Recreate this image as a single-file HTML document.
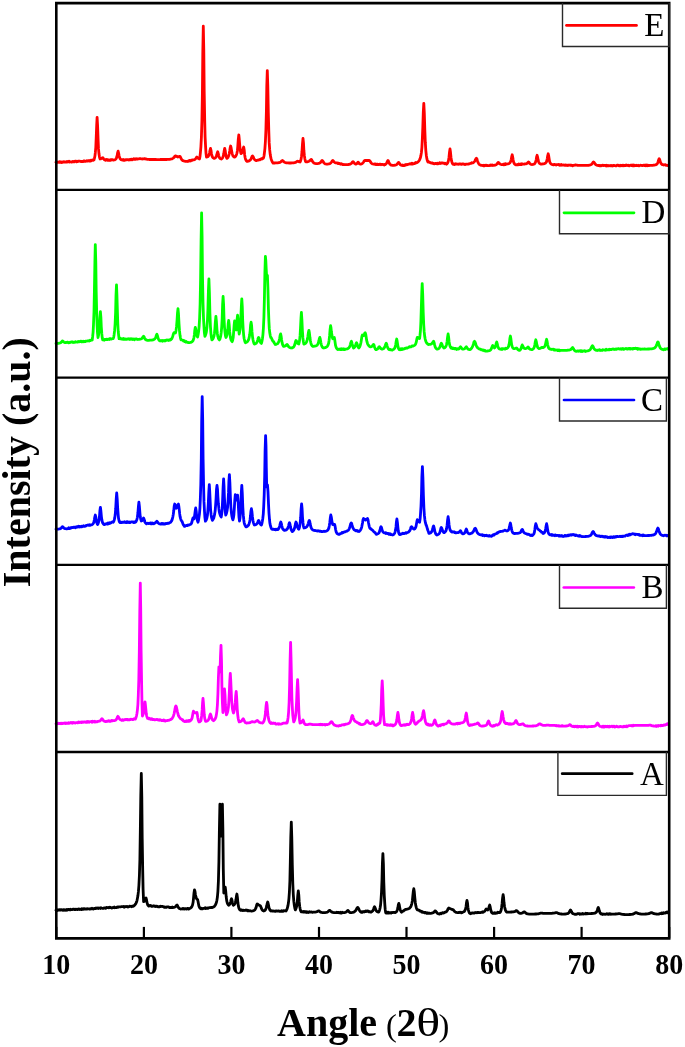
<!DOCTYPE html>
<html><head><meta charset="utf-8"><title>XRD patterns</title>
<style>
html,body{margin:0;padding:0;background:#fff;}
body{width:685px;height:1047px;overflow:hidden;}
svg{display:block;}
.c{fill:none;stroke-width:2.8;stroke-linejoin:round;stroke-linecap:round;}
.fr{fill:none;stroke:#000;stroke-width:2.6;}
.dv{stroke:#000;stroke-width:2.3;}
.tk{stroke:#000;stroke-width:2.2;}
.lb{fill:none;stroke:#2a2a2a;stroke-width:1.4;}
.ll{stroke-width:2.7;stroke-linecap:round;}
.lt{font-family:"Liberation Serif","Times New Roman",serif;font-size:33px;fill:#000;}
.tl{font-family:"Liberation Serif","Times New Roman",serif;font-weight:bold;font-size:28px;text-anchor:middle;fill:#000;}
.ax{font-family:"Liberation Serif","Times New Roman",serif;font-weight:bold;font-size:39px;fill:#000;}
.ay{font-size:40px;}
.rp{font-weight:normal;font-size:32.5px;}
.rt{font-weight:normal;}
</style></head><body>
<svg width="685" height="1047" viewBox="0 0 685 1047">
<rect width="685" height="1047" fill="#fff"/>
<polyline class="c" stroke="#ff0000" points="56.0,162.3 56.5,162.0 57.0,162.3 57.5,162.1 58.0,162.3 58.5,162.3 59.0,161.8 59.5,161.7 60.0,162.4 60.5,161.9 61.0,161.8 61.5,162.5 62.0,162.0 62.5,162.3 63.0,162.0 63.5,162.1 64.0,161.6 64.5,162.0 65.0,162.2 65.5,161.9 66.0,162.1 66.5,162.0 67.0,161.4 67.5,162.0 68.0,161.9 68.5,161.6 69.0,161.3 69.5,162.0 70.0,161.7 70.5,161.9 71.0,162.0 71.5,161.8 72.0,162.0 72.5,161.5 73.0,161.8 73.5,161.5 74.0,161.9 74.5,161.8 75.0,161.1 75.5,161.1 76.0,161.2 76.5,161.8 77.0,161.3 77.5,161.5 78.0,161.2 78.5,161.3 79.0,161.2 79.5,161.1 80.0,161.3 80.5,161.3 81.0,161.6 81.5,161.3 82.0,161.5 82.5,161.5 83.0,161.6 83.5,161.2 84.0,160.8 84.5,161.4 85.0,161.4 85.5,161.4 86.0,161.0 86.5,161.1 87.0,160.7 87.5,161.2 88.0,161.0 88.5,160.7 89.0,160.5 89.5,161.1 90.0,160.8 90.5,161.1 91.0,160.2 91.5,160.7 92.0,160.2 92.5,159.9 93.0,159.9 93.5,160.2 94.0,159.8 94.4,158.4 94.9,156.3 95.3,152.9 95.8,147.3 96.2,137.9 96.7,125.0 97.1,117.3 97.6,126.1 98.1,139.8 98.5,148.9 99.0,154.1 99.5,157.1 100.0,159.0 100.5,158.9 100.9,158.8 101.3,158.6 101.8,158.3 102.2,157.9 102.7,157.7 103.2,158.1 103.6,158.8 104.1,159.4 104.5,159.8 105.0,160.0 105.5,160.3 106.0,159.6 106.5,160.1 107.0,159.6 107.5,160.2 108.0,159.8 108.5,160.3 109.0,160.4 109.5,160.0 110.0,160.4 110.5,159.8 111.0,159.6 111.5,160.1 112.0,159.6 112.5,159.7 113.0,159.9 113.5,160.1 114.0,160.0 114.5,159.9 114.9,159.7 115.4,159.4 115.8,159.0 116.3,158.4 116.7,157.3 117.2,155.4 117.6,152.8 118.1,151.2 118.6,153.0 119.1,155.8 119.6,157.6 120.0,158.6 120.5,159.2 121.0,159.6 121.5,159.8 122.0,160.0 122.5,159.7 123.0,159.5 123.5,160.2 124.0,159.7 124.5,160.3 125.0,160.2 125.5,159.7 126.0,159.7 126.5,159.7 127.0,159.8 127.5,159.7 128.0,159.7 128.5,159.7 129.0,160.0 129.5,159.5 130.0,159.4 130.5,159.7 131.0,159.2 131.5,159.2 132.0,159.8 132.5,159.4 133.0,159.4 133.5,158.8 134.0,159.2 134.5,159.3 135.0,158.8 135.5,159.3 136.0,159.2 136.5,158.7 137.0,159.2 137.5,159.0 138.0,159.0 138.5,158.9 139.0,158.8 139.5,158.7 140.0,158.7 140.5,158.7 141.0,158.8 141.5,158.9 142.0,159.0 142.5,159.0 142.9,158.9 143.4,158.9 143.9,158.8 144.3,158.7 144.8,158.7 145.3,158.8 145.7,158.9 146.2,159.1 146.7,159.2 147.2,159.3 147.6,159.4 148.1,159.4 148.6,159.4 149.1,159.5 149.5,159.5 150.0,159.5 150.5,159.5 151.0,159.5 151.5,159.5 152.0,159.5 152.4,159.5 152.9,159.5 153.4,159.5 153.9,159.5 154.4,159.5 154.9,159.5 155.4,159.5 155.9,159.5 156.3,159.5 156.8,159.6 157.3,159.6 157.8,159.6 158.3,159.6 158.8,159.6 159.3,159.6 159.7,159.6 160.2,159.5 160.7,159.5 161.2,159.5 161.7,159.5 162.2,159.5 162.6,159.5 163.1,159.5 163.6,159.5 164.1,159.5 164.6,159.5 165.0,159.5 165.5,159.5 166.0,159.5 166.5,159.5 167.0,159.5 167.4,159.4 167.9,159.4 168.4,159.4 168.9,159.4 169.4,159.3 169.8,159.3 170.3,159.2 170.8,159.1 171.3,159.0 171.8,158.9 172.2,158.7 172.7,158.4 173.2,158.1 173.7,157.7 174.2,157.2 174.6,156.6 175.1,156.1 175.6,155.9 176.0,156.0 176.4,156.2 176.9,156.5 177.3,156.8 177.7,157.0 178.1,156.9 178.5,156.7 179.0,156.6 179.4,156.4 179.8,156.3 180.3,156.8 180.8,157.9 181.3,159.0 181.8,159.7 182.3,160.2 182.8,160.6 183.3,160.8 183.8,161.0 184.3,161.1 184.8,161.2 185.3,161.3 185.8,161.3 186.3,161.4 186.8,161.4 187.3,161.5 187.8,161.1 188.2,161.3 188.7,161.2 189.2,160.4 189.7,160.4 190.1,160.8 190.6,161.0 191.1,160.2 191.6,160.3 192.0,160.3 192.5,159.9 193.0,160.0 193.5,159.9 194.0,159.8 194.5,159.6 194.9,159.4 195.4,159.0 195.9,158.3 196.4,157.5 196.9,157.0 197.3,157.3 197.8,157.8 198.2,158.3 198.6,158.6 199.1,158.9 199.5,159.0 200.0,156.4 200.4,152.6 200.9,146.8 201.4,137.4 201.9,121.3 202.4,93.6 202.8,52.3 203.3,26.2 203.8,51.1 204.2,91.7 204.7,120.1 205.1,136.9 205.6,146.9 206.0,153.1 206.5,157.2 207.0,157.0 207.5,156.8 208.0,156.5 208.5,155.9 209.0,154.9 209.5,153.1 210.0,150.3 210.5,148.4 211.0,150.3 211.4,153.3 211.9,155.5 212.3,156.7 212.8,157.4 213.3,157.9 213.7,158.2 214.2,158.4 214.7,158.2 215.2,157.9 215.7,157.5 216.2,156.7 216.7,155.3 217.2,153.1 217.7,151.7 218.2,153.3 218.7,155.6 219.2,157.2 219.7,158.0 220.2,158.5 220.7,158.8 221.2,159.0 221.7,158.7 222.2,158.3 222.7,157.6 223.2,156.3 223.7,154.1 224.2,150.7 224.7,148.4 225.2,150.5 225.6,153.9 226.1,156.2 226.5,157.6 227.0,158.4 227.4,158.0 227.9,157.5 228.3,156.7 228.8,155.5 229.2,153.7 229.7,151.0 230.2,147.7 230.6,146.0 231.1,147.7 231.6,150.9 232.1,153.3 232.6,154.9 233.0,155.9 233.5,156.5 234.0,156.9 234.5,157.2 235.0,156.9 235.5,156.5 235.9,155.8 236.4,154.9 236.9,153.3 237.4,150.7 237.8,146.1 238.3,139.2 238.8,134.8 239.2,138.5 239.7,144.8 240.1,149.3 240.6,152.0 241.0,153.7 241.4,153.4 241.9,152.8 242.3,151.9 242.8,150.4 243.2,148.3 243.7,147.0 244.2,149.9 244.6,154.4 245.1,157.5 245.6,159.3 246.1,160.3 246.5,161.0 247.0,161.4 247.5,161.3 248.0,161.2 248.5,161.1 249.0,160.9 249.5,160.6 250.0,160.2 250.5,159.7 251.0,158.9 251.5,157.7 252.0,156.5 252.5,155.9 253.0,156.4 253.4,157.5 253.9,158.5 254.4,159.3 254.9,159.9 255.4,160.2 255.8,160.5 256.3,160.7 256.8,160.4 257.3,160.2 257.8,160.1 258.3,160.2 258.8,159.8 259.3,159.7 259.8,159.9 260.3,159.5 260.8,158.9 261.2,159.1 261.7,159.1 262.1,158.5 262.6,158.2 263.0,158.5 263.5,158.0 264.0,156.0 264.4,153.0 264.9,148.6 265.4,141.5 265.9,130.0 266.4,111.1 266.8,85.5 267.3,70.6 267.8,86.1 268.3,112.3 268.8,131.4 269.2,142.9 269.7,149.9 270.2,154.3 270.7,157.2 271.2,159.2 271.7,160.6 272.1,161.6 272.6,162.4 273.1,163.0 273.6,163.0 274.1,163.0 274.6,163.0 275.1,163.0 275.5,162.9 276.0,162.9 276.5,162.9 277.0,162.9 277.5,162.8 278.0,162.8 278.5,162.7 279.0,162.7 279.5,162.5 280.0,162.4 280.4,162.1 280.9,161.8 281.4,161.3 281.9,160.7 282.4,160.5 282.9,160.7 283.3,161.2 283.8,161.7 284.3,162.1 284.8,162.4 285.2,162.5 285.7,162.7 286.2,162.8 286.7,162.8 287.1,162.9 287.6,162.9 288.1,162.9 288.6,163.0 289.0,163.0 289.5,163.0 290.0,163.0 290.5,163.0 290.9,163.0 291.4,163.0 291.9,162.9 292.4,162.9 292.8,162.9 293.3,162.9 293.8,162.8 294.3,162.7 294.7,162.7 295.2,162.5 295.7,162.3 296.2,162.1 296.6,161.7 297.1,161.4 297.6,161.2 298.1,161.3 298.6,161.5 299.0,161.7 299.5,161.9 300.0,162.0 300.5,161.0 301.0,159.4 301.5,156.5 302.0,151.5 302.5,143.6 303.0,138.3 303.5,143.1 303.9,150.7 304.4,155.9 304.9,159.0 305.3,160.8 305.8,161.9 306.3,161.9 306.8,161.8 307.3,161.8 307.8,161.7 308.3,161.5 308.7,161.4 309.2,161.1 309.7,160.7 310.2,160.2 310.7,159.7 311.2,159.4 311.7,159.8 312.1,160.7 312.6,161.6 313.1,162.2 313.5,162.7 314.0,163.0 314.4,163.2 314.9,163.4 315.4,163.5 315.8,163.6 316.3,163.7 316.8,163.7 317.3,163.6 317.8,163.6 318.3,163.5 318.8,163.4 319.2,163.2 319.7,163.0 320.2,162.7 320.7,162.2 321.2,161.5 321.7,160.8 322.2,160.5 322.7,160.9 323.1,161.6 323.6,162.4 324.0,163.0 324.5,163.4 325.0,163.7 325.4,163.9 325.9,164.0 326.3,164.1 326.8,164.2 327.3,164.2 327.8,164.1 328.3,164.0 328.8,163.9 329.3,163.8 329.8,163.6 330.2,163.4 330.7,163.0 331.2,162.4 331.7,161.7 332.2,160.9 332.7,160.5 333.2,160.8 333.7,161.4 334.2,162.0 334.7,162.4 335.2,162.7 335.7,162.9 336.2,163.0 336.7,162.9 337.2,162.9 337.6,163.2 338.1,163.6 338.6,163.1 339.1,163.4 339.6,163.6 340.1,164.1 340.5,163.8 341.0,164.3 341.5,163.8 342.0,164.1 342.5,164.4 343.0,164.7 343.4,164.5 343.9,164.4 344.4,164.7 344.9,164.7 345.4,164.7 345.8,164.7 346.3,164.6 346.8,164.6 347.3,164.6 347.7,164.6 348.2,164.5 348.7,164.5 349.2,164.4 349.7,164.3 350.1,164.1 350.6,163.9 351.1,163.6 351.6,163.2 352.0,162.6 352.5,162.0 353.0,161.7 353.5,162.0 353.9,162.6 354.4,163.2 354.9,163.7 355.3,164.0 355.8,164.2 356.3,164.0 356.7,163.8 357.2,163.3 357.6,162.6 358.1,162.2 358.6,162.6 359.1,163.3 359.5,163.8 360.0,164.0 360.5,164.2 361.0,164.1 361.4,163.9 361.9,163.7 362.4,163.5 362.8,163.0 363.3,162.4 363.8,161.7 364.2,160.9 364.7,160.5 365.2,160.5 365.6,160.5 366.1,160.5 366.5,160.5 367.0,160.5 367.5,160.5 368.0,160.5 368.4,160.5 368.9,160.5 369.4,160.5 369.9,160.9 370.3,161.6 370.8,162.4 371.2,163.0 371.7,163.4 372.2,163.7 372.6,163.9 373.1,164.0 373.5,164.1 374.0,164.2 374.5,163.9 375.0,164.3 375.5,164.0 376.0,164.6 376.5,164.6 377.0,164.1 377.5,164.2 378.0,164.7 378.5,164.5 379.0,164.7 379.5,164.3 380.0,164.1 380.5,164.3 381.0,164.8 381.5,164.3 382.0,164.4 382.5,164.5 383.0,164.5 383.5,164.6 384.0,165.0 384.5,164.4 385.0,164.7 385.5,164.4 386.0,164.0 386.5,163.3 387.0,162.4 387.5,161.1 388.0,160.5 388.5,161.1 388.9,162.3 389.4,163.4 389.9,164.1 390.4,164.5 390.8,164.9 391.3,165.1 391.8,165.2 392.2,165.3 392.7,165.4 393.2,165.4 393.7,165.3 394.2,165.3 394.7,165.2 395.2,165.2 395.6,165.0 396.1,164.9 396.6,164.6 397.1,164.2 397.6,163.5 398.1,162.8 398.6,162.4 399.1,162.8 399.6,163.6 400.1,164.3 400.5,164.8 401.0,165.1 401.5,165.3 402.0,165.4 402.5,164.9 403.0,165.6 403.5,165.5 404.0,165.5 404.5,164.9 405.0,165.3 405.5,165.2 406.0,164.5 406.5,164.8 407.0,164.8 407.5,164.6 408.0,164.4 408.5,164.1 409.0,164.1 409.5,163.9 410.0,163.6 410.5,164.0 411.0,163.7 411.5,164.1 412.0,163.3 412.5,164.0 413.0,163.7 413.5,163.8 414.0,163.7 414.5,163.6 415.0,163.2 415.5,162.6 416.0,163.0 416.5,162.8 417.0,162.6 417.5,162.3 417.9,161.9 418.4,161.5 418.9,160.9 419.4,160.2 419.9,159.1 420.4,157.7 420.9,155.6 421.4,152.5 421.9,147.6 422.3,139.8 422.8,127.6 423.3,112.0 423.8,103.3 424.3,112.7 424.8,129.5 425.3,142.2 425.8,150.3 426.3,155.2 426.8,158.4 427.3,160.5 427.8,161.9 428.3,162.2 428.8,161.9 429.3,162.1 429.8,162.6 430.3,162.6 430.8,162.6 431.3,163.2 431.8,163.0 432.3,162.9 432.8,163.0 433.3,163.6 433.8,163.4 434.3,163.8 434.8,163.7 435.3,163.5 435.8,163.3 436.2,163.6 436.7,163.8 437.2,163.2 437.7,163.7 438.2,163.8 438.7,163.6 439.1,163.6 439.6,162.8 440.1,163.4 440.6,163.5 441.1,162.8 441.6,162.9 442.0,162.9 442.5,163.1 443.0,163.0 443.5,163.1 444.0,163.3 444.5,163.8 445.0,163.2 445.5,163.5 446.0,163.7 446.5,164.2 447.0,163.8 447.5,163.2 448.0,162.1 448.5,160.4 449.0,157.2 449.5,152.2 450.0,148.9 450.5,152.3 451.0,157.4 451.5,160.7 452.0,162.5 452.5,163.6 453.0,164.2 453.5,163.9 454.0,163.8 454.5,164.6 455.0,164.5 455.5,163.8 456.0,164.2 456.5,164.0 457.0,164.0 457.5,164.1 458.0,164.3 458.5,164.3 459.0,164.1 459.5,163.9 460.0,164.0 460.5,163.9 461.0,164.2 461.5,164.4 462.0,164.1 462.5,163.8 463.0,163.9 463.5,164.1 464.0,164.3 464.5,164.5 465.0,164.1 465.5,164.5 466.0,164.3 466.5,164.1 467.0,164.1 467.5,164.2 468.0,164.1 468.4,164.1 468.9,163.8 469.4,163.9 469.9,163.6 470.3,163.3 470.8,163.4 471.3,163.4 471.7,162.7 472.2,163.0 472.7,162.9 473.1,162.7 473.6,162.4 474.1,162.0 474.5,161.5 475.0,160.7 475.5,159.7 475.9,158.7 476.4,158.2 476.9,158.9 477.3,160.4 477.8,161.8 478.3,162.9 478.7,163.7 479.2,164.3 479.6,164.6 480.1,164.9 480.6,165.1 481.0,165.3 481.5,165.4 482.0,165.3 482.5,165.3 483.0,165.7 483.4,165.8 483.9,165.3 484.4,165.8 484.9,165.7 485.4,165.2 485.9,165.4 486.4,165.1 486.9,165.7 487.4,165.5 487.8,165.7 488.3,165.7 488.8,165.6 489.3,165.6 489.8,165.5 490.3,165.0 490.8,165.5 491.2,165.0 491.7,165.1 492.2,165.6 492.7,165.0 493.2,165.4 493.7,165.4 494.1,165.3 494.6,165.2 495.1,165.2 495.5,165.0 496.0,164.8 496.4,164.5 496.9,164.1 497.4,163.5 497.8,162.8 498.3,162.4 498.8,162.7 499.2,163.3 499.7,163.8 500.2,164.1 500.6,164.3 501.1,164.5 501.6,164.6 502.0,164.6 502.5,164.7 503.0,164.3 503.4,164.2 503.9,164.8 504.4,164.1 504.9,163.9 505.4,164.6 505.8,163.8 506.3,164.1 506.8,164.1 507.3,164.0 507.8,163.9 508.3,163.8 508.8,163.6 509.2,163.4 509.7,163.0 510.2,162.4 510.7,161.4 511.2,159.5 511.7,156.7 512.2,154.8 512.6,156.6 513.1,159.6 513.5,161.7 514.0,163.0 514.4,163.8 514.9,164.3 515.3,164.6 515.8,164.9 516.3,164.7 516.7,164.8 517.2,164.9 517.7,164.5 518.2,164.7 518.7,164.0 519.1,164.6 519.6,164.3 520.1,164.5 520.6,163.9 521.1,164.4 521.6,164.6 522.0,163.8 522.5,164.0 523.0,164.1 523.5,164.1 523.9,164.1 524.4,164.0 524.9,164.0 525.3,163.9 525.8,163.9 526.3,163.7 526.7,163.6 527.2,163.3 527.7,162.8 528.1,162.3 528.6,162.0 529.1,162.4 529.6,163.2 530.1,163.7 530.5,164.1 531.0,164.4 531.5,164.5 532.0,164.6 532.5,164.5 532.9,164.4 533.4,164.3 533.9,164.1 534.3,163.9 534.8,163.4 535.2,162.8 535.7,161.7 536.2,159.8 536.6,157.0 537.1,155.3 537.6,157.1 538.1,159.9 538.6,161.7 539.0,162.7 539.5,163.3 540.0,163.7 540.5,163.9 541.0,164.1 541.5,164.1 542.0,164.0 542.4,164.0 542.9,163.9 543.4,163.9 543.9,163.8 544.4,163.6 544.8,163.4 545.3,163.2 545.8,162.7 546.3,162.1 546.8,160.9 547.2,158.8 547.7,155.8 548.2,153.8 548.7,155.9 549.2,159.2 549.6,161.5 550.1,162.7 550.6,163.5 551.1,163.9 551.5,164.2 552.0,164.5 552.5,164.6 553.0,164.7 553.5,164.9 554.0,164.4 554.5,164.4 555.0,164.5 555.5,164.8 556.0,165.0 556.5,164.7 557.0,164.7 557.5,164.7 558.0,164.7 558.5,164.8 559.0,164.5 559.5,164.9 560.0,165.3 560.5,164.8 561.0,165.2 561.5,164.6 562.0,165.1 562.5,165.2 563.0,165.2 563.5,165.0 564.0,165.0 564.5,165.2 565.0,165.4 565.5,164.8 566.0,164.8 566.5,165.4 567.0,165.5 567.5,165.2 568.0,165.2 568.5,165.4 569.0,165.0 569.5,165.1 570.0,165.0 570.5,165.4 571.0,165.2 571.5,165.1 572.0,165.5 572.5,165.8 573.0,165.4 573.4,165.4 573.9,165.3 574.3,165.2 574.7,165.1 575.2,165.0 575.6,165.0 576.1,165.0 576.6,165.1 577.1,165.2 577.5,165.3 578.0,165.3 578.5,165.3 579.0,165.3 579.5,165.4 580.0,165.4 580.4,165.4 580.9,165.4 581.4,165.4 581.9,165.4 582.4,165.4 582.9,165.4 583.3,165.4 583.8,165.4 584.3,165.4 584.8,165.4 585.3,165.4 585.8,165.4 586.2,165.4 586.7,165.4 587.2,165.4 587.7,165.4 588.2,165.3 588.7,165.3 589.2,165.2 589.7,165.1 590.2,165.0 590.6,164.9 591.1,164.6 591.6,164.3 592.1,163.8 592.6,163.1 593.1,162.3 593.6,162.0 594.1,162.4 594.5,163.1 595.0,163.8 595.5,164.4 596.0,164.8 596.4,165.0 596.9,165.2 597.4,165.4 597.9,165.5 598.3,165.5 598.8,165.6 599.3,165.4 599.8,165.8 600.3,165.5 600.8,165.9 601.3,165.7 601.8,165.4 602.3,165.3 602.8,165.2 603.3,165.6 603.8,165.5 604.3,165.3 604.8,165.5 605.3,165.4 605.8,165.8 606.3,165.3 606.8,166.0 607.3,165.5 607.7,165.7 608.2,165.5 608.7,165.9 609.2,165.8 609.7,165.6 610.2,165.5 610.7,165.8 611.2,165.9 611.7,165.5 612.2,165.8 612.7,166.0 613.2,165.5 613.7,165.3 614.2,165.3 614.7,165.7 615.2,165.7 615.7,165.9 616.2,165.9 616.7,165.3 617.2,165.2 617.7,165.3 618.2,165.2 618.7,165.7 619.2,165.8 619.7,165.9 620.2,165.3 620.7,165.8 621.2,165.3 621.7,165.4 622.2,165.7 622.7,165.1 623.2,165.1 623.7,165.8 624.2,165.3 624.6,165.4 625.1,165.6 625.6,165.7 626.1,165.0 626.6,165.3 627.1,165.4 627.6,165.5 628.1,165.2 628.6,165.6 629.1,165.9 629.6,165.4 630.1,165.5 630.6,165.1 631.1,165.3 631.6,165.6 632.1,165.1 632.6,165.8 633.1,165.8 633.6,165.1 634.1,165.9 634.6,165.3 635.1,165.7 635.6,165.7 636.1,165.3 636.6,165.6 637.1,165.6 637.6,165.7 638.1,165.2 638.6,165.7 639.1,165.9 639.6,165.6 640.1,165.5 640.6,165.1 641.1,165.4 641.5,165.3 642.0,165.6 642.5,165.6 643.0,165.5 643.5,165.1 644.0,165.6 644.5,165.5 645.0,165.1 645.5,165.8 646.0,165.6 646.5,165.1 647.0,165.8 647.5,165.1 648.0,165.3 648.5,165.6 649.0,165.5 649.5,165.5 650.0,165.4 650.5,165.4 651.0,165.4 651.5,165.4 651.9,165.3 652.4,165.3 652.9,165.3 653.4,165.2 653.9,165.2 654.4,165.1 654.8,165.0 655.3,164.9 655.8,164.8 656.3,164.5 656.8,164.2 657.3,163.6 657.7,162.8 658.2,161.4 658.7,159.7 659.2,158.7 659.7,159.6 660.2,161.3 660.6,162.6 661.1,163.5 661.6,164.0 662.0,164.4 662.5,164.6 663.0,164.8 663.5,165.0 664.0,164.9 664.5,164.8 665.0,164.7 665.5,164.7 666.0,165.3 666.5,165.4 667.0,165.3 667.5,165.5 668.0,165.2 668.5,165.4"/>
<polyline class="c" stroke="#00ff00" points="56.0,343.4 56.5,343.4 57.0,343.4 57.5,343.3 58.0,343.3 58.5,343.3 59.0,343.2 59.5,343.1 60.0,343.0 60.5,342.8 61.0,342.5 61.5,342.0 62.0,341.3 62.5,340.9 63.0,341.2 63.4,341.7 63.9,342.1 64.4,342.4 64.8,342.6 65.3,342.7 65.8,342.4 66.3,342.3 66.8,342.5 67.3,342.2 67.8,342.1 68.3,342.4 68.8,342.8 69.3,342.7 69.8,342.6 70.3,342.1 70.8,342.3 71.3,342.1 71.8,341.9 72.3,341.8 72.8,341.9 73.3,342.5 73.8,342.4 74.3,342.3 74.8,342.3 75.3,341.7 75.8,341.8 76.3,342.0 76.8,342.1 77.2,342.2 77.7,342.1 78.2,341.4 78.7,341.8 79.2,341.8 79.7,341.7 80.2,341.3 80.7,341.6 81.2,341.2 81.7,341.9 82.2,341.8 82.7,341.5 83.2,341.2 83.7,341.7 84.2,341.4 84.7,341.6 85.2,341.6 85.7,341.2 86.2,341.1 86.7,341.2 87.2,341.0 87.7,340.8 88.2,340.9 88.7,341.0 89.2,341.1 89.7,340.3 90.2,340.2 90.7,340.5 91.2,340.1 91.7,340.2 92.2,340.0 92.6,336.9 93.1,332.1 93.5,324.5 94.0,311.8 94.4,290.9 94.9,261.9 95.3,244.6 95.8,262.4 96.2,291.9 96.7,312.8 97.1,325.3 97.5,332.8 98.0,337.5 98.5,335.5 99.0,332.1 99.4,326.2 99.9,317.4 100.4,311.7 100.9,317.6 101.3,327.1 101.8,333.7 102.2,337.6 102.7,339.9 103.2,339.8 103.7,339.6 104.2,340.2 104.7,339.4 105.2,339.5 105.7,339.3 106.2,339.6 106.7,339.2 107.2,339.3 107.7,339.6 108.2,339.1 108.7,339.3 109.2,339.5 109.7,338.7 110.2,338.6 110.7,338.7 111.2,339.2 111.7,339.0 112.2,338.6 112.7,338.6 113.2,338.7 113.7,337.1 114.1,334.7 114.6,330.7 115.1,324.0 115.6,312.5 116.0,295.5 116.5,284.8 116.9,294.6 117.4,311.3 117.8,323.7 118.2,331.2 118.7,335.8 119.1,338.7 119.6,338.4 120.1,338.7 120.6,338.3 121.1,339.0 121.6,339.1 122.1,339.2 122.5,339.0 123.0,339.3 123.5,338.4 124.0,338.7 124.5,339.3 125.0,339.2 125.5,338.9 126.0,339.4 126.5,339.1 127.0,339.3 127.5,338.8 128.0,338.8 128.4,339.0 128.9,338.7 129.4,339.0 129.9,339.5 130.4,339.0 130.9,338.7 131.4,338.8 131.9,338.9 132.4,339.5 132.9,339.1 133.4,339.0 133.9,338.9 134.4,339.7 134.8,339.2 135.3,339.0 135.8,338.9 136.3,338.9 136.8,339.1 137.3,339.5 137.8,339.4 138.3,339.4 138.8,339.3 139.2,339.3 139.7,339.2 140.2,339.2 140.7,339.0 141.2,338.9 141.7,338.6 142.2,338.2 142.6,337.5 143.1,336.7 143.6,336.2 144.1,336.9 144.6,338.1 145.1,339.0 145.6,339.6 146.1,339.9 146.6,340.1 147.1,340.3 147.6,340.3 148.1,340.3 148.6,340.3 149.1,340.3 149.6,340.2 150.0,340.2 150.5,340.2 151.0,340.1 151.5,340.1 152.0,340.0 152.5,340.0 153.0,339.9 153.5,339.7 154.0,339.5 154.4,339.2 154.9,338.7 155.4,338.0 155.9,336.7 156.4,335.2 156.9,334.3 157.3,335.2 157.8,337.0 158.2,338.5 158.7,339.6 159.1,340.3 159.6,340.7 160.0,341.0 160.5,340.6 161.0,340.5 161.5,340.8 162.0,340.6 162.5,341.2 163.0,340.4 163.5,340.7 164.0,340.9 164.5,340.5 165.0,341.0 165.5,340.5 166.0,340.2 166.5,340.3 167.0,339.9 167.5,340.2 168.0,340.0 168.5,340.5 169.0,340.4 169.5,340.1 170.0,339.6 170.5,340.0 171.0,339.6 171.5,339.1 172.0,338.2 172.5,337.0 173.0,335.4 173.5,333.6 174.0,332.7 174.5,332.8 175.0,332.9 175.5,333.0 176.0,330.7 176.5,326.9 177.0,320.9 177.5,313.0 178.0,308.6 178.5,314.0 179.0,323.5 179.5,330.7 180.0,335.3 180.5,338.1 181.0,339.9 181.5,339.8 182.0,340.0 182.4,340.1 182.9,340.3 183.4,341.1 183.9,340.6 184.4,340.6 184.9,341.6 185.3,341.4 185.8,342.0 186.3,341.6 186.8,342.2 187.3,342.2 187.8,342.5 188.2,342.6 188.7,342.5 189.2,342.7 189.7,342.6 190.1,342.5 190.6,342.4 191.1,342.3 191.5,342.1 192.0,341.8 192.5,341.3 193.0,340.7 193.4,339.6 193.9,337.8 194.4,334.7 194.8,330.2 195.3,327.3 195.8,329.3 196.2,332.6 196.7,334.9 197.1,336.2 197.6,337.0 198.1,334.8 198.6,331.6 199.1,326.6 199.6,318.4 200.1,304.2 200.6,278.8 201.1,239.2 201.6,212.8 202.1,237.3 202.5,276.3 203.0,302.8 203.5,318.1 204.0,327.2 204.4,332.8 204.9,336.4 205.4,335.4 205.9,333.9 206.4,331.6 206.9,327.8 207.4,321.2 207.9,309.5 208.4,291.2 208.9,279.0 209.4,292.5 209.9,312.8 210.4,325.8 210.9,333.1 211.4,337.3 211.9,339.9 212.4,339.5 212.9,338.9 213.4,337.9 213.9,336.4 214.4,333.7 214.9,328.8 215.4,321.3 215.9,316.3 216.4,321.4 216.9,329.1 217.4,334.0 217.9,336.7 218.4,338.3 218.9,339.3 219.4,339.9 219.9,339.0 220.3,337.7 220.8,335.7 221.2,332.5 221.7,327.1 222.2,318.0 222.6,304.7 223.1,296.5 223.6,304.8 224.0,318.0 224.5,327.1 225.0,332.4 225.4,335.6 225.9,337.5 226.4,336.7 226.8,335.4 227.3,333.1 227.8,329.3 228.2,323.8 228.7,320.3 229.2,324.9 229.7,331.9 230.2,336.3 230.7,338.8 231.2,340.3 231.7,341.1 232.2,341.7 232.7,340.1 233.2,337.4 233.6,332.7 234.1,325.5 234.6,321.0 235.0,322.7 235.4,325.9 235.8,328.4 236.2,330.0 236.7,325.6 237.1,319.2 237.6,315.2 238.0,318.8 238.4,325.4 238.8,330.6 239.2,334.0 239.6,332.1 240.1,329.1 240.5,324.2 240.9,316.1 241.4,305.2 241.8,298.8 242.3,307.1 242.7,320.5 243.2,329.8 243.7,335.3 244.1,338.5 244.6,340.5 245.0,341.8 245.5,342.7 246.0,342.5 246.4,342.3 246.9,342.0 247.4,341.6 247.8,341.1 248.3,340.3 248.8,339.2 249.2,337.4 249.7,334.6 250.2,330.3 250.6,325.0 251.1,322.2 251.6,325.5 252.0,331.7 252.5,336.6 253.0,339.8 253.5,341.9 253.9,343.2 254.4,344.1 254.9,344.0 255.3,343.8 255.8,343.5 256.3,343.1 256.7,342.5 257.2,341.6 257.7,340.1 258.1,338.4 258.6,337.4 259.1,338.3 259.5,340.1 260.0,341.5 260.5,342.4 260.9,343.0 261.4,343.4 261.9,341.6 262.4,338.9 262.9,334.8 263.4,328.2 263.9,317.2 264.4,298.7 264.9,272.3 265.4,256.3 265.8,260.5 266.2,268.8 266.6,276.0 267.0,275.6 267.4,275.4 267.9,288.3 268.4,308.2 268.9,321.3 269.3,328.7 269.8,333.1 270.3,335.8 270.8,337.5 271.3,337.8 271.7,338.6 272.2,339.9 272.6,340.7 273.1,341.4 273.6,341.6 274.0,342.5 274.5,343.4 274.9,343.9 275.4,344.5 275.9,344.4 276.3,344.2 276.8,344.0 277.3,343.8 277.8,343.4 278.2,342.8 278.7,341.9 279.2,340.4 279.7,338.2 280.1,335.4 280.6,333.9 281.1,336.0 281.6,339.8 282.1,342.7 282.6,344.6 283.1,345.7 283.6,346.4 284.1,346.3 284.6,346.2 285.1,346.0 285.6,345.8 286.1,345.3 286.6,344.7 287.1,344.4 287.6,344.9 288.0,345.9 288.5,346.6 289.0,347.1 289.5,347.4 289.9,347.6 290.4,347.8 290.9,347.9 291.3,347.9 291.8,348.0 292.3,347.9 292.7,347.6 293.2,347.3 293.7,346.9 294.1,346.2 294.6,345.1 295.1,343.5 295.5,341.5 296.0,340.4 296.5,341.0 296.9,342.0 297.4,342.9 297.9,343.4 298.3,343.8 298.8,344.0 299.2,342.3 299.7,339.6 300.1,335.2 300.5,328.0 301.0,318.1 301.4,312.4 301.9,319.8 302.4,330.8 302.9,337.9 303.4,341.8 303.9,344.1 304.4,343.9 304.9,343.7 305.4,343.4 305.9,342.9 306.4,342.2 306.9,341.0 307.4,339.2 307.9,336.3 308.4,332.5 308.9,330.3 309.4,332.8 309.9,337.3 310.4,340.8 310.9,343.1 311.3,344.5 311.8,345.4 312.3,346.0 312.8,346.4 313.3,346.4 313.8,346.3 314.3,346.2 314.8,346.2 315.3,346.0 315.8,345.9 316.3,345.7 316.8,345.4 317.3,344.9 317.8,344.2 318.3,343.0 318.8,341.2 319.3,338.8 319.8,337.4 320.3,339.2 320.8,342.3 321.3,344.6 321.8,346.1 322.3,347.0 322.8,347.6 323.3,348.0 323.8,347.9 324.3,347.8 324.8,347.7 325.2,347.6 325.7,347.4 326.2,347.2 326.7,346.8 327.2,346.4 327.7,345.7 328.2,344.6 328.7,343.0 329.1,340.2 329.6,335.7 330.1,329.4 330.6,325.7 331.0,327.8 331.4,331.8 331.9,335.1 332.3,337.3 332.7,338.7 333.1,338.5 333.5,338.1 333.9,337.6 334.3,337.4 334.7,339.5 335.2,343.1 335.6,345.7 336.1,347.3 336.5,348.2 337.0,348.8 337.4,349.2 337.9,349.5 338.4,349.2 338.8,349.3 339.3,349.4 339.8,349.0 340.3,349.6 340.7,349.6 341.2,348.8 341.7,349.6 342.2,349.6 342.6,349.4 343.1,348.8 343.6,349.6 344.1,348.9 344.5,349.6 345.0,349.4 345.5,349.2 346.0,349.1 346.5,349.0 347.0,348.9 347.5,348.8 348.0,348.5 348.4,348.2 348.9,347.8 349.4,347.1 349.9,346.0 350.4,344.3 350.9,342.3 351.4,341.3 351.8,342.2 352.2,344.0 352.7,345.8 353.1,347.1 353.5,348.0 354.0,347.7 354.5,347.2 355.0,346.4 355.5,345.2 356.0,343.6 356.5,342.7 357.0,343.6 357.5,345.3 357.9,346.6 358.4,347.5 358.9,348.0 359.4,347.3 359.9,346.3 360.4,344.8 360.9,342.7 361.4,339.7 361.9,336.5 362.4,335.0 362.9,335.1 363.3,335.3 363.8,335.5 364.3,334.4 364.7,333.2 365.2,332.7 365.7,334.1 366.2,337.2 366.6,340.1 367.1,342.3 367.6,343.8 368.1,344.8 368.6,345.5 369.1,346.0 369.5,346.4 370.0,346.7 370.5,346.9 370.9,346.8 371.4,346.6 371.8,346.4 372.3,346.0 372.7,345.4 373.2,344.7 373.6,344.4 374.1,345.3 374.5,346.9 375.0,348.2 375.4,349.1 375.9,349.7 376.4,349.6 376.8,349.4 377.3,349.1 377.8,348.7 378.3,348.0 378.7,347.2 379.2,346.7 379.7,347.1 380.2,347.9 380.7,348.5 381.2,348.8 381.7,349.1 382.2,349.2 382.7,349.0 383.2,348.8 383.7,348.4 384.2,347.9 384.7,347.0 385.2,345.7 385.7,344.1 386.2,343.2 386.7,344.2 387.2,346.1 387.7,347.6 388.2,348.6 388.7,349.3 389.2,349.7 389.7,349.3 390.2,349.4 390.7,349.8 391.2,349.8 391.7,349.9 392.2,350.1 392.7,349.7 393.2,349.5 393.7,349.2 394.2,348.8 394.7,348.1 395.2,346.9 395.7,344.7 396.2,341.3 396.7,339.0 397.1,340.9 397.6,344.3 398.0,346.7 398.4,348.2 398.9,349.1 399.3,349.7 399.8,349.3 400.3,349.0 400.8,349.7 401.3,348.8 401.8,349.5 402.3,348.7 402.8,349.2 403.2,349.0 403.7,349.0 404.2,348.6 404.7,348.8 405.2,348.1 405.7,348.4 406.2,348.0 406.7,348.0 407.2,348.2 407.6,347.9 408.1,347.5 408.6,347.4 409.1,346.8 409.5,346.7 410.0,347.0 410.5,346.8 411.0,346.9 411.4,346.6 411.9,346.0 412.4,346.0 412.9,346.2 413.3,345.9 413.8,345.7 414.3,345.5 414.8,345.1 415.3,344.6 415.8,343.6 416.3,341.9 416.8,339.2 417.3,337.4 417.8,337.6 418.2,338.1 418.7,338.3 419.1,338.5 419.6,338.6 420.0,335.2 420.5,329.8 420.9,321.4 421.3,308.4 421.8,292.3 422.2,283.6 422.7,294.4 423.2,312.1 423.7,324.5 424.2,331.9 424.7,336.3 425.2,339.1 425.7,340.9 426.2,342.1 426.7,343.0 427.2,343.6 427.7,344.1 428.2,344.5 428.7,344.5 429.2,344.4 429.7,344.4 430.2,344.3 430.7,344.2 431.1,344.0 431.6,343.7 432.1,343.3 432.6,342.6 433.1,341.8 433.6,341.3 434.1,342.6 434.6,344.9 435.1,346.7 435.6,347.8 436.1,348.5 436.6,348.9 437.1,349.2 437.6,349.1 438.0,348.9 438.5,348.7 439.0,348.3 439.4,347.8 439.9,346.9 440.4,345.6 440.8,344.1 441.3,343.2 441.8,343.9 442.2,345.3 442.7,346.5 443.2,347.2 443.6,347.7 444.1,348.0 444.6,347.8 445.1,347.4 445.6,346.8 446.1,345.9 446.6,344.3 447.1,341.4 447.6,336.9 448.1,333.9 448.6,337.0 449.1,341.7 449.6,344.7 450.1,346.4 450.6,347.4 451.1,348.0 451.6,347.6 452.1,348.5 452.6,348.6 453.1,348.0 453.6,348.5 454.1,348.4 454.6,348.9 455.1,348.5 455.6,348.5 456.1,348.8 456.6,349.4 457.1,348.7 457.6,348.8 458.1,349.2 458.6,349.0 459.1,348.7 459.5,348.1 460.0,347.2 460.5,346.7 461.0,347.2 461.4,348.1 461.9,348.6 462.3,349.0 462.8,349.2 463.3,349.1 463.8,349.0 464.3,348.9 464.8,348.6 465.3,348.1 465.8,347.2 466.3,346.7 466.8,347.3 467.3,348.3 467.8,348.9 468.3,349.3 468.8,349.5 469.3,349.6 469.8,349.7 470.3,349.5 470.7,349.1 471.2,348.7 471.7,348.1 472.1,347.4 472.6,346.3 473.1,345.0 473.6,343.4 474.0,341.9 474.5,341.3 475.0,341.9 475.5,343.2 475.9,344.7 476.4,345.9 476.9,346.9 477.4,347.6 477.9,348.1 478.4,348.4 478.9,348.7 479.3,348.9 479.8,349.1 480.3,349.2 480.8,349.5 481.3,349.9 481.8,349.7 482.3,349.8 482.8,350.3 483.2,350.4 483.7,349.9 484.2,350.8 484.7,350.4 485.2,350.6 485.7,351.2 486.2,351.1 486.7,351.1 487.2,351.0 487.7,351.0 488.2,350.9 488.7,350.8 489.2,350.7 489.7,350.5 490.2,350.2 490.7,349.8 491.2,349.0 491.7,347.9 492.2,346.4 492.7,345.5 493.1,345.9 493.5,346.8 494.0,347.5 494.4,348.0 494.9,347.5 495.3,346.7 495.8,345.3 496.2,343.2 496.7,342.0 497.2,343.6 497.7,345.9 498.2,347.4 498.7,348.2 499.2,348.7 499.7,349.0 500.2,349.2 500.7,349.1 501.1,349.4 501.6,348.8 502.1,349.4 502.5,348.7 503.0,348.6 503.5,348.9 504.0,348.7 504.4,348.8 504.9,349.1 505.4,348.9 505.8,348.2 506.3,348.6 506.8,348.4 507.2,348.2 507.7,347.8 508.1,347.2 508.6,346.3 509.0,344.7 509.5,342.1 509.9,338.3 510.4,336.0 510.8,338.3 511.3,342.1 511.7,344.9 512.2,346.5 512.6,347.6 513.1,348.2 513.5,348.6 513.9,348.6 514.4,348.6 514.8,348.5 515.3,348.4 515.7,348.3 516.2,348.1 516.6,348.0 517.1,348.5 517.6,349.3 518.1,349.8 518.6,350.1 519.1,350.3 519.6,350.4 520.0,350.1 520.5,349.6 520.9,348.9 521.3,347.6 521.8,345.9 522.2,344.9 522.6,345.6 523.1,346.7 523.5,347.6 523.9,348.1 524.4,348.4 524.8,348.6 525.3,348.6 525.7,348.5 526.2,348.4 526.7,348.2 527.2,347.8 527.6,347.3 528.1,347.0 528.6,347.5 529.1,348.4 529.6,348.9 530.0,349.2 530.5,349.4 531.0,349.5 531.5,349.6 532.0,349.6 532.5,349.4 533.0,349.1 533.4,348.7 533.9,348.0 534.4,346.8 534.8,344.8 535.3,341.7 535.8,339.8 536.3,341.6 536.8,344.4 537.3,346.3 537.7,347.4 538.2,348.0 538.7,348.4 539.2,348.6 539.7,348.5 540.2,348.4 540.7,348.1 541.2,347.8 541.7,347.5 542.2,347.5 542.6,347.5 543.0,347.5 543.5,347.5 543.9,347.2 544.4,346.8 544.8,346.2 545.3,345.1 545.7,343.3 546.2,340.8 546.6,339.3 547.1,341.3 547.6,344.5 548.1,346.5 548.5,347.7 549.0,348.4 549.5,348.8 550.0,349.1 550.5,349.0 551.0,349.3 551.5,349.3 551.9,349.5 552.4,349.4 552.9,349.1 553.4,349.3 553.9,349.9 554.4,349.5 554.9,350.0 555.3,350.2 555.8,350.0 556.3,350.1 556.8,350.1 557.3,349.9 557.8,350.5 558.3,350.1 558.7,350.6 559.2,350.1 559.7,350.7 560.2,350.4 560.7,350.4 561.2,350.4 561.7,350.4 562.2,350.4 562.7,350.4 563.2,350.4 563.7,350.4 564.2,350.4 564.7,350.4 565.2,350.3 565.7,350.3 566.2,350.3 566.6,350.3 567.1,350.3 567.6,350.2 568.1,350.2 568.6,350.1 569.1,350.1 569.6,350.0 570.1,349.8 570.6,349.6 571.1,349.2 571.6,348.6 572.1,347.9 572.6,347.5 573.1,348.1 573.6,349.1 574.1,349.9 574.6,350.5 575.1,350.9 575.6,351.1 576.1,351.4 576.6,351.2 577.1,351.0 577.6,350.8 578.1,351.3 578.6,351.0 579.1,351.2 579.6,350.8 580.1,350.7 580.6,350.8 581.0,351.4 581.5,350.8 582.0,351.5 582.5,351.0 583.0,351.2 583.5,351.0 584.0,351.2 584.5,350.7 585.0,351.0 585.5,351.5 586.0,351.1 586.5,351.1 587.0,351.0 587.5,350.9 588.0,350.8 588.5,350.7 589.0,350.5 589.4,350.2 589.9,349.9 590.4,349.3 590.9,348.5 591.4,347.4 591.9,346.3 592.4,345.7 592.9,346.2 593.4,347.2 593.8,348.2 594.3,349.0 594.8,349.5 595.3,349.8 595.7,350.1 596.2,350.3 596.7,350.4 597.2,350.1 597.7,350.5 598.2,350.1 598.7,350.1 599.2,349.8 599.7,349.7 600.2,350.5 600.7,350.4 601.2,350.3 601.7,350.3 602.2,350.4 602.7,349.6 603.2,350.0 603.7,349.9 604.2,349.9 604.7,350.2 605.2,350.0 605.7,350.2 606.2,349.3 606.7,349.8 607.2,349.8 607.7,349.8 608.2,349.7 608.7,349.8 609.2,349.3 609.7,349.8 610.2,349.3 610.7,349.4 611.2,349.7 611.7,349.5 612.2,349.1 612.7,349.0 613.2,349.0 613.7,349.3 614.2,349.1 614.7,349.5 615.2,349.4 615.7,349.0 616.2,349.0 616.7,349.3 617.2,348.8 617.7,348.9 618.2,348.6 618.7,348.7 619.2,349.0 619.7,349.1 620.2,349.1 620.7,348.8 621.2,349.3 621.7,349.0 622.2,348.6 622.7,348.5 623.2,349.3 623.7,349.3 624.2,349.2 624.7,348.9 625.2,348.7 625.7,348.5 626.2,348.6 626.7,348.5 627.2,349.2 627.7,349.1 628.2,349.0 628.7,348.4 629.2,348.5 629.7,348.5 630.2,349.1 630.7,348.4 631.2,348.9 631.7,348.8 632.2,348.7 632.7,349.1 633.2,348.4 633.7,348.6 634.2,348.3 634.7,348.6 635.2,348.3 635.7,348.2 636.2,348.5 636.7,348.4 637.2,348.3 637.6,349.2 638.1,348.6 638.6,349.1 639.1,349.0 639.6,349.0 640.1,349.0 640.6,349.3 641.1,349.3 641.6,349.1 642.1,349.0 642.5,349.2 643.0,349.2 643.5,349.1 644.0,349.1 644.5,348.8 645.0,349.1 645.5,349.1 646.0,349.1 646.5,349.1 647.0,349.1 647.5,349.0 648.0,349.0 648.5,349.0 649.0,349.0 649.5,349.0 650.0,348.9 650.5,348.9 651.0,348.9 651.5,348.8 651.9,348.8 652.4,348.7 652.9,348.6 653.4,348.5 653.9,348.3 654.4,348.1 654.9,347.7 655.4,347.2 655.9,346.5 656.4,345.5 656.9,344.1 657.4,342.6 657.9,341.9 658.4,342.6 658.8,344.2 659.3,345.8 659.8,347.0 660.2,347.8 660.7,348.4 661.1,348.8 661.6,349.1 662.1,349.3 662.5,349.5 663.0,349.6 663.5,349.8 664.0,349.4 664.5,348.9 665.0,348.9 665.5,349.5 666.0,348.8 666.5,348.9 667.0,349.0 667.5,349.1 668.0,348.5 668.5,348.6"/>
<polyline class="c" stroke="#0000ff" points="56.0,529.2 56.5,529.2 57.0,529.2 57.5,529.1 58.0,529.1 58.5,529.1 59.0,529.0 59.5,528.9 60.0,528.8 60.5,528.6 61.0,528.3 61.5,527.8 62.0,527.1 62.5,526.7 63.0,527.0 63.4,527.6 63.9,528.1 64.4,528.4 64.8,528.6 65.3,528.7 65.8,528.7 66.3,528.8 66.8,528.8 67.3,528.8 67.8,528.6 68.3,528.7 68.8,527.8 69.3,528.1 69.7,528.5 70.2,528.1 70.7,528.3 71.2,527.5 71.7,527.7 72.2,527.5 72.7,527.7 73.2,527.6 73.7,527.1 74.2,527.2 74.7,527.1 75.2,527.7 75.7,527.4 76.2,526.8 76.7,527.3 77.2,526.7 77.7,527.0 78.2,526.5 78.6,526.3 79.1,527.0 79.6,526.4 80.1,526.3 80.6,526.9 81.1,526.8 81.6,526.2 82.1,526.7 82.6,526.2 83.1,526.3 83.6,525.8 84.1,526.4 84.6,526.1 85.1,526.3 85.6,526.1 86.1,525.5 86.6,525.5 87.0,525.3 87.5,525.2 88.0,525.0 88.5,525.2 89.0,525.4 89.5,524.8 90.0,525.3 90.5,524.9 91.0,525.0 91.5,524.9 92.0,524.7 92.4,524.4 92.9,524.0 93.4,523.3 93.9,522.1 94.3,520.0 94.8,517.0 95.3,515.0 95.8,517.0 96.2,520.2 96.7,522.4 97.1,523.7 97.6,524.5 98.1,523.7 98.5,522.4 99.0,520.1 99.5,516.3 99.9,510.8 100.4,507.3 100.9,511.0 101.4,516.6 101.9,520.2 102.4,522.2 102.9,523.3 103.4,524.0 103.9,524.5 104.4,524.2 104.9,524.5 105.4,524.1 105.9,523.9 106.3,523.9 106.8,524.0 107.3,523.3 107.8,524.0 108.3,523.0 108.8,523.5 109.3,523.5 109.8,522.6 110.3,523.2 110.8,522.7 111.2,522.8 111.7,522.1 112.2,522.0 112.7,522.0 113.2,522.2 113.7,521.4 114.2,520.2 114.7,518.2 115.2,514.8 115.7,508.7 116.2,499.2 116.7,492.8 117.2,499.0 117.7,508.7 118.2,515.1 118.6,518.8 119.1,520.9 119.6,522.2 120.1,522.6 120.6,521.9 121.1,522.4 121.6,522.6 122.1,522.6 122.6,522.1 123.1,522.1 123.5,522.2 124.0,522.4 124.5,521.8 125.0,522.4 125.5,522.5 126.0,522.5 126.5,521.8 127.0,522.6 127.5,521.8 128.0,522.1 128.5,522.3 129.0,522.6 129.5,522.1 130.0,522.6 130.5,522.2 131.0,522.0 131.4,522.0 131.9,521.9 132.4,521.8 132.9,521.9 133.4,522.4 133.9,522.6 134.4,521.9 134.9,521.8 135.4,522.2 135.9,521.7 136.4,520.8 136.9,519.5 137.4,517.2 137.9,513.0 138.4,506.5 138.9,502.2 139.4,506.3 139.9,512.8 140.3,517.1 140.8,519.6 141.3,521.0 141.8,520.8 142.2,520.3 142.7,519.6 143.1,518.6 143.6,518.0 144.1,519.2 144.6,521.0 145.0,522.3 145.5,523.0 146.0,523.4 146.5,523.8 147.0,523.4 147.4,523.3 147.9,523.2 148.4,523.5 148.9,523.7 149.3,523.4 149.8,523.3 150.3,523.0 150.8,523.8 151.2,523.0 151.7,523.4 152.2,523.7 152.7,523.1 153.1,523.6 153.6,523.8 154.1,523.4 154.6,523.3 155.0,523.1 155.5,522.7 156.0,522.2 156.4,521.6 156.9,521.3 157.3,521.7 157.8,522.4 158.2,523.0 158.7,523.4 159.1,523.7 159.6,523.9 160.0,524.0 160.5,524.1 161.0,524.2 161.4,523.5 161.9,523.8 162.4,523.5 162.9,524.1 163.3,523.6 163.8,523.7 164.3,524.1 164.8,524.0 165.2,524.0 165.7,523.5 166.2,523.5 166.7,523.7 167.1,523.5 167.6,523.2 168.1,523.4 168.6,523.3 169.0,523.1 169.5,522.9 170.0,522.6 170.5,522.3 170.9,521.8 171.4,521.2 171.9,520.3 172.3,519.0 172.8,517.1 173.3,514.2 173.8,510.3 174.2,506.1 174.7,504.0 175.1,504.6 175.5,505.8 175.9,507.1 176.3,508.2 176.7,507.6 177.1,506.8 177.6,505.7 178.0,504.5 178.4,504.0 178.8,506.0 179.3,510.1 179.7,513.9 180.1,516.7 180.6,518.6 181.0,519.9 181.5,520.7 182.0,521.4 182.5,522.6 183.0,524.1 183.5,525.0 184.0,525.6 184.5,526.4 185.0,526.2 185.5,525.9 186.0,525.5 186.5,525.5 187.0,525.7 187.5,525.6 188.0,525.0 188.5,525.2 189.0,525.0 189.5,524.7 190.0,524.5 190.5,524.4 191.0,524.0 191.5,523.2 192.0,521.8 192.5,519.5 193.0,518.0 193.5,518.4 194.0,519.0 194.4,517.2 194.8,514.2 195.3,510.3 195.7,508.0 196.2,510.9 196.6,515.7 197.1,519.1 197.5,521.0 198.0,522.2 198.5,520.4 198.9,517.9 199.4,514.3 199.9,508.7 200.3,499.7 200.8,484.5 201.3,458.4 201.7,420.3 202.2,396.6 202.7,420.2 203.1,458.9 203.6,485.9 204.0,501.9 204.5,511.4 204.9,517.3 205.4,521.2 205.9,520.5 206.4,519.5 206.9,518.0 207.4,515.5 207.8,511.2 208.3,503.6 208.8,492.1 209.3,484.6 209.7,491.1 210.2,501.9 210.6,509.8 211.1,514.5 211.5,517.3 212.0,519.1 212.4,520.3 212.9,519.7 213.3,518.9 213.8,517.8 214.2,516.2 214.7,513.9 215.2,510.5 215.6,505.3 216.1,497.9 216.5,489.5 217.0,485.3 217.5,489.3 217.9,497.1 218.4,504.0 218.9,508.7 219.3,511.8 219.8,513.9 220.3,515.3 220.7,516.3 221.2,517.0 221.7,514.1 222.2,509.0 222.6,500.3 223.1,487.2 223.6,478.8 224.0,485.5 224.4,497.3 224.9,506.2 225.3,511.8 225.7,515.2 226.2,514.2 226.6,512.8 227.1,510.6 227.6,507.2 228.0,501.7 228.5,492.9 228.9,481.2 229.4,474.6 229.9,483.1 230.4,497.1 230.9,507.0 231.4,512.8 231.9,516.3 232.4,518.5 232.9,519.9 233.4,518.0 233.9,514.7 234.3,508.9 234.8,500.2 235.3,494.7 235.7,495.9 236.1,498.2 236.5,500.0 236.9,498.2 237.2,496.2 237.6,495.1 238.1,501.2 238.6,510.8 239.0,517.3 239.5,521.0 240.0,518.1 240.4,513.1 240.9,504.8 241.3,492.7 241.8,485.3 242.3,493.7 242.8,506.7 243.3,515.2 243.8,520.0 244.2,522.8 244.7,524.5 245.2,525.6 245.7,526.4 246.2,526.9 246.7,526.7 247.1,526.5 247.6,526.1 248.1,525.6 248.6,525.0 249.0,523.9 249.5,522.4 250.0,519.9 250.5,516.0 250.9,511.3 251.4,508.7 251.9,511.5 252.4,516.4 252.9,520.2 253.4,522.6 253.9,524.1 254.4,525.0 254.9,524.9 255.3,524.8 255.8,524.6 256.3,524.3 256.7,523.9 257.2,523.3 257.7,522.3 258.1,521.1 258.6,520.4 259.1,521.1 259.5,522.5 260.0,523.5 260.5,524.3 260.9,524.7 261.4,525.0 261.9,523.5 262.3,521.4 262.8,518.4 263.3,513.8 263.7,506.5 264.2,494.7 264.7,475.6 265.1,450.2 265.6,435.6 266.0,445.9 266.3,467.2 266.7,487.0 267.1,485.6 267.5,485.0 268.0,491.8 268.5,503.9 269.0,513.4 269.5,519.5 269.9,523.3 270.4,525.7 270.9,527.3 271.4,528.4 271.9,529.2 272.4,529.1 272.9,529.5 273.4,529.1 273.9,529.3 274.4,529.6 274.9,529.6 275.3,529.2 275.8,529.9 276.3,529.6 276.8,529.6 277.3,529.1 277.8,529.6 278.3,529.2 278.8,528.5 279.3,527.4 279.8,525.6 280.3,523.3 280.8,522.0 281.3,523.4 281.8,525.8 282.3,527.7 282.8,528.9 283.3,529.6 283.8,530.1 284.3,530.4 284.8,530.3 285.2,530.2 285.7,530.1 286.2,529.9 286.7,529.6 287.1,529.1 287.6,528.5 288.1,527.4 288.6,525.8 289.0,523.8 289.5,522.7 290.0,524.1 290.4,526.6 290.9,528.7 291.4,530.1 291.8,530.9 292.3,531.5 292.8,531.2 293.2,530.8 293.7,530.3 294.1,529.4 294.6,528.0 295.1,525.9 295.5,523.4 296.0,522.0 296.5,523.1 296.9,525.2 297.4,526.9 297.9,528.0 298.3,528.7 298.8,529.2 299.3,528.0 299.7,526.1 300.2,522.8 300.7,517.2 301.1,509.1 301.6,504.0 302.1,509.0 302.5,517.1 303.0,522.7 303.4,526.0 303.9,528.0 304.4,527.9 304.9,527.8 305.4,527.6 305.9,527.4 306.4,527.1 306.8,526.7 307.3,526.0 307.8,524.9 308.3,523.3 308.8,521.4 309.3,520.4 309.8,521.6 310.2,524.1 310.7,526.2 311.2,527.7 311.6,528.6 312.1,529.3 312.6,529.7 313.1,530.0 313.5,530.2 314.0,530.4 314.5,530.5 315.0,530.3 315.5,530.7 316.0,530.6 316.5,530.9 317.0,530.8 317.5,531.0 318.0,530.7 318.5,531.0 319.0,531.1 319.5,531.3 320.0,530.9 320.5,531.4 321.0,531.5 321.5,531.4 322.0,531.7 322.5,531.7 323.0,531.4 323.5,531.4 324.0,531.1 324.5,531.5 325.0,531.4 325.5,531.3 326.0,531.2 326.4,531.0 326.9,530.7 327.4,530.4 327.9,529.9 328.4,529.1 328.9,527.9 329.3,525.8 329.8,522.4 330.3,517.8 330.8,515.0 331.3,517.0 331.8,520.4 332.2,522.9 332.7,524.5 333.2,524.5 333.6,524.5 334.1,524.4 334.6,524.4 335.1,526.4 335.6,529.5 336.1,531.6 336.6,532.8 337.0,533.4 337.5,533.8 338.0,534.1 338.5,534.3 339.0,534.4 339.5,534.3 340.0,533.7 340.5,533.7 341.0,533.5 341.5,533.3 342.0,532.6 342.5,533.0 343.0,532.6 343.5,532.4 344.0,532.0 344.5,532.0 345.0,531.9 345.5,531.5 346.0,531.4 346.4,531.3 346.9,531.1 347.4,530.9 347.9,530.5 348.4,530.1 348.8,529.5 349.3,528.6 349.8,527.3 350.2,525.5 350.7,523.7 351.2,522.9 351.7,523.6 352.1,525.2 352.6,526.8 353.0,528.0 353.5,528.8 353.9,529.4 354.4,529.9 354.8,530.2 355.3,530.4 355.8,530.7 356.2,530.9 356.6,530.4 357.1,530.6 357.6,531.0 358.0,531.4 358.4,531.1 358.9,531.5 359.4,531.2 359.8,530.8 360.3,530.3 360.7,529.6 361.2,528.6 361.7,527.1 362.1,525.1 362.6,522.4 363.0,519.7 363.5,518.5 364.0,518.7 364.5,519.2 365.0,519.7 365.5,520.0 366.0,519.7 366.5,519.2 367.0,518.7 367.5,518.5 368.0,519.7 368.4,522.2 368.9,524.7 369.3,526.6 369.8,528.0 370.3,528.6 370.7,529.0 371.2,528.9 371.7,529.8 372.2,530.0 372.6,530.3 373.1,530.8 373.6,531.4 374.0,531.8 374.5,532.2 375.0,532.5 375.5,533.4 375.9,533.7 376.4,534.3 376.9,534.2 377.3,534.0 377.8,533.8 378.2,533.5 378.7,533.1 379.2,532.4 379.6,531.3 380.1,529.7 380.5,527.7 381.0,526.7 381.5,527.7 382.0,529.5 382.4,530.9 382.9,531.8 383.4,532.3 383.9,532.7 384.4,532.9 384.9,533.0 385.4,532.8 385.9,533.6 386.3,532.9 386.8,533.4 387.3,533.4 387.8,533.6 388.3,533.5 388.8,534.3 389.3,534.0 389.8,533.8 390.3,534.5 390.7,534.1 391.2,534.7 391.7,534.6 392.2,534.9 392.7,535.0 393.2,534.8 393.6,534.5 394.1,534.0 394.6,533.3 395.0,532.1 395.5,530.2 396.0,526.9 396.4,522.0 396.9,519.0 397.4,522.4 397.9,527.6 398.3,531.1 398.8,533.1 399.3,534.3 399.8,534.6 400.3,534.4 400.8,533.9 401.3,534.2 401.8,533.9 402.3,533.5 402.8,533.2 403.2,533.5 403.7,533.4 404.2,533.6 404.7,533.5 405.2,533.1 405.7,532.8 406.2,533.2 406.7,532.7 407.2,532.6 407.6,532.5 408.1,532.3 408.6,532.0 409.0,531.6 409.5,531.1 410.0,530.2 410.5,528.9 410.9,527.4 411.4,526.7 411.9,527.0 412.3,527.7 412.8,528.3 413.3,528.7 413.7,529.0 414.2,529.2 414.6,528.9 415.1,528.4 415.5,527.7 416.0,526.4 416.4,524.3 416.9,521.4 417.3,519.7 417.8,520.2 418.2,521.1 418.7,521.6 419.1,522.0 419.6,522.2 420.1,519.1 420.5,514.2 421.0,506.3 421.5,493.5 421.9,476.4 422.4,466.6 422.9,477.5 423.4,495.4 423.9,508.0 424.4,515.4 424.9,519.9 425.4,522.7 425.9,524.5 426.4,525.5 426.9,527.1 427.4,529.0 427.9,530.5 428.4,531.6 428.9,533.4 429.4,533.3 429.8,533.2 430.3,533.0 430.8,532.7 431.2,532.3 431.7,531.6 432.2,530.6 432.7,529.0 433.1,527.0 433.6,526.0 434.0,527.2 434.5,529.6 434.9,531.7 435.4,533.1 435.8,534.0 436.3,534.6 436.7,535.0 437.2,534.9 437.6,534.7 438.1,534.5 438.5,534.2 439.0,533.8 439.5,533.1 439.9,532.0 440.4,530.4 440.8,528.4 441.3,527.4 441.8,528.2 442.2,529.8 442.7,531.0 443.2,531.8 443.6,532.4 444.1,532.7 444.6,532.4 445.1,532.0 445.6,531.3 446.1,530.3 446.6,528.4 447.1,525.2 447.6,520.0 448.1,516.6 448.6,519.9 449.1,524.9 449.6,528.1 450.1,529.8 450.6,530.9 451.1,531.5 451.6,531.7 452.1,532.1 452.6,531.7 453.1,531.8 453.6,531.8 454.1,531.9 454.5,532.6 455.0,532.2 455.5,532.8 456.0,532.9 456.5,532.7 457.0,532.7 457.5,532.6 458.0,532.6 458.5,532.4 459.0,532.2 459.5,531.8 460.0,531.1 460.5,530.7 461.0,531.4 461.4,532.4 461.9,533.2 462.3,533.6 462.8,533.9 463.3,533.8 463.8,533.6 464.3,533.2 464.8,532.7 465.3,531.6 465.8,530.1 466.3,529.0 466.7,529.9 467.2,531.4 467.6,532.5 468.1,533.1 468.5,533.5 469.0,533.7 469.4,533.9 469.9,533.8 470.4,533.7 470.8,533.5 471.3,533.3 471.8,533.1 472.3,532.7 472.8,532.2 473.3,531.6 473.8,530.7 474.2,529.7 474.7,528.7 475.2,528.3 475.7,528.8 476.2,529.9 476.7,531.2 477.1,532.2 477.6,533.0 478.1,533.5 478.6,534.0 479.1,534.3 479.6,534.5 480.0,534.7 480.5,534.8 481.0,534.9 481.5,535.0 482.0,534.8 482.5,535.6 483.0,535.2 483.5,535.2 484.0,535.2 484.5,535.8 485.0,535.4 485.5,535.3 486.0,535.5 486.4,535.3 486.9,535.8 487.4,535.7 487.9,535.6 488.4,536.1 488.9,536.2 489.4,535.6 489.9,536.1 490.4,535.9 490.9,536.2 491.4,536.3 491.9,536.0 492.4,535.2 492.9,535.0 493.3,534.7 493.8,535.2 494.3,534.3 494.8,534.3 495.3,534.0 495.8,533.9 496.3,533.6 496.8,533.5 497.3,532.6 497.8,533.0 498.2,532.3 498.7,532.3 499.2,531.8 499.7,531.6 500.2,531.5 500.7,531.5 501.1,531.4 501.6,531.4 502.1,531.3 502.5,531.2 503.0,531.1 503.5,530.9 504.0,530.6 504.4,530.3 504.9,530.2 505.3,530.3 505.7,530.5 506.2,530.7 506.6,530.9 507.0,531.0 507.5,530.8 508.0,530.4 508.5,529.9 508.9,528.9 509.4,527.2 509.9,524.7 510.4,523.0 510.8,524.9 511.3,528.1 511.8,530.3 512.2,531.6 512.6,532.4 513.1,532.9 513.5,533.3 514.0,533.5 514.5,533.5 515.0,533.5 515.4,533.5 515.9,533.4 516.4,533.4 516.9,533.4 517.4,533.3 517.9,533.3 518.3,533.2 518.8,533.1 519.3,533.0 519.8,532.8 520.3,532.4 520.8,531.9 521.2,531.0 521.7,530.0 522.2,529.4 522.7,530.0 523.1,531.2 523.6,532.1 524.1,532.7 524.6,533.1 525.0,533.3 525.5,533.5 526.0,533.7 526.5,533.8 527.0,533.9 527.5,534.4 528.0,534.4 528.5,534.1 529.0,534.4 529.5,534.8 530.0,535.3 530.5,535.5 531.0,535.3 531.5,535.0 532.0,535.6 532.5,535.4 533.0,535.0 533.4,534.5 533.9,533.7 534.4,532.2 534.8,529.7 535.3,526.0 535.8,523.7 536.2,524.7 536.7,526.5 537.1,527.8 537.6,528.5 538.0,529.0 538.5,529.7 539.0,529.8 539.5,530.3 540.0,530.8 540.5,531.2 541.0,531.4 541.5,532.2 542.0,532.2 542.5,532.6 543.0,533.4 543.5,533.5 543.9,533.2 544.4,532.7 544.8,531.9 545.3,530.6 545.7,528.5 546.2,525.5 546.6,523.7 547.1,526.0 547.6,529.6 548.1,531.9 548.5,533.2 549.0,534.0 549.5,534.5 550.0,534.8 550.5,534.6 551.0,534.7 551.5,535.2 552.0,534.6 552.5,535.4 553.0,535.3 553.4,535.1 553.9,535.0 554.4,535.5 554.9,535.7 555.4,535.0 555.9,535.4 556.4,535.5 556.9,535.5 557.4,535.4 557.9,535.3 558.4,535.7 558.9,536.0 559.4,535.4 559.8,535.6 560.3,536.1 560.8,536.2 561.3,536.1 561.8,535.6 562.3,536.3 562.8,536.1 563.3,536.5 563.8,536.4 564.3,536.1 564.7,535.4 565.2,536.1 565.7,535.5 566.2,535.8 566.7,536.0 567.2,535.7 567.7,535.2 568.1,535.2 568.6,535.7 569.1,535.0 569.6,535.3 570.1,535.1 570.6,534.8 571.1,535.2 571.5,534.6 572.0,534.6 572.5,534.8 573.0,534.8 573.5,534.5 574.0,534.6 574.5,535.1 575.0,535.4 575.5,535.6 576.0,535.0 576.5,535.3 577.0,535.3 577.5,535.7 578.0,535.6 578.4,536.1 578.9,535.7 579.4,535.5 579.9,536.2 580.4,535.8 580.9,536.3 581.4,536.3 581.9,536.7 582.4,536.5 582.9,536.6 583.4,536.6 583.9,536.6 584.4,536.6 584.9,536.6 585.3,536.5 585.8,536.5 586.3,536.5 586.8,536.4 587.3,536.4 587.8,536.3 588.2,536.3 588.7,536.2 589.2,536.0 589.7,535.9 590.2,535.6 590.7,535.3 591.2,534.7 591.6,534.0 592.1,533.0 592.6,531.9 593.1,531.4 593.6,531.9 594.0,532.8 594.5,533.8 595.0,534.5 595.5,535.0 596.0,535.3 596.4,535.6 596.9,535.7 597.4,535.9 597.8,536.0 598.3,536.0 598.8,536.1 599.3,535.9 599.8,536.3 600.3,536.1 600.7,536.6 601.2,536.4 601.7,536.1 602.2,536.3 602.7,536.5 603.2,536.9 603.7,536.4 604.1,537.0 604.6,537.0 605.1,536.5 605.6,537.1 606.1,536.7 606.6,536.8 607.1,537.2 607.5,537.0 608.0,537.6 608.5,537.3 609.0,537.4 609.5,537.2 610.0,537.6 610.5,536.9 611.0,537.4 611.5,536.8 612.0,536.8 612.5,537.5 613.0,537.2 613.5,536.8 614.0,536.6 614.5,537.4 615.0,537.0 615.5,537.1 616.0,536.5 616.5,536.9 617.0,536.6 617.5,536.4 618.0,536.5 618.5,536.7 619.0,536.4 619.5,536.4 620.0,536.2 620.5,536.7 621.0,536.5 621.5,536.6 622.0,536.2 622.5,536.6 623.0,536.2 623.5,536.3 624.0,536.2 624.5,536.1 625.0,536.2 625.5,535.7 625.9,535.3 626.4,535.2 626.9,535.2 627.4,534.9 627.9,535.5 628.4,535.0 628.8,535.2 629.3,534.3 629.8,534.6 630.3,534.9 630.8,534.5 631.2,534.2 631.7,534.1 632.2,534.0 632.7,533.7 633.2,533.8 633.7,533.9 634.2,534.1 634.7,534.2 635.2,534.7 635.6,534.1 636.1,534.3 636.6,534.4 637.1,534.3 637.6,534.5 638.1,534.5 638.6,534.8 639.1,534.4 639.6,535.3 640.1,534.9 640.6,535.4 641.1,535.3 641.6,535.3 642.0,535.2 642.5,535.7 643.0,535.0 643.5,535.6 644.0,535.3 644.5,535.7 645.0,535.6 645.5,535.6 646.0,535.6 646.5,535.6 647.0,535.6 647.5,535.5 648.0,535.5 648.5,535.5 649.0,535.5 649.5,535.5 650.0,535.4 650.5,535.4 651.0,535.4 651.5,535.3 651.9,535.2 652.4,535.2 652.9,535.1 653.4,534.9 653.9,534.8 654.4,534.5 654.9,534.2 655.4,533.7 655.9,532.9 656.4,531.9 656.9,530.4 657.4,528.8 657.9,528.1 658.4,528.8 658.8,530.4 659.3,531.9 659.8,533.0 660.2,533.8 660.7,534.4 661.1,534.8 661.6,535.1 662.1,535.3 662.5,535.5 663.0,535.6 663.5,535.8 664.0,535.3 664.5,535.3 665.0,535.2 665.5,535.4 666.0,535.2 666.5,535.5 667.0,536.0 667.5,535.5 668.0,535.4 668.5,535.6"/>
<polyline class="c" stroke="#ff00ff" points="56.0,723.7 56.5,723.9 57.0,723.9 57.5,723.6 58.0,723.4 58.5,723.1 59.0,723.7 59.5,723.5 60.0,723.7 60.5,723.3 61.0,723.7 61.5,723.2 62.0,723.6 62.5,723.6 63.0,723.2 63.5,723.3 64.0,723.4 64.5,723.0 65.0,723.3 65.5,723.5 66.0,722.9 66.5,723.4 67.0,723.3 67.5,723.4 68.0,722.9 68.5,722.6 69.0,723.3 69.5,723.2 70.0,722.9 70.5,722.5 71.0,722.6 71.5,723.0 72.0,722.6 72.5,723.2 73.0,722.8 73.5,722.5 74.0,722.9 74.5,722.6 75.0,723.0 75.5,723.0 76.0,722.6 76.5,722.7 77.0,722.7 77.5,722.8 78.0,722.9 78.5,722.0 79.0,722.3 79.5,722.5 80.0,722.2 80.5,722.4 81.0,722.0 81.5,722.6 82.0,722.3 82.5,721.9 83.0,722.4 83.5,722.0 84.0,721.9 84.5,722.1 85.0,721.8 85.5,721.8 86.0,722.4 86.5,722.2 87.0,721.6 87.5,722.2 88.0,721.5 88.5,721.8 89.0,722.3 89.5,722.0 90.0,721.7 90.5,721.7 91.0,721.7 91.5,721.4 92.0,722.2 92.5,721.3 93.0,721.6 93.5,721.9 94.0,721.5 94.5,722.0 95.0,721.3 95.5,722.0 96.0,721.9 96.5,721.6 97.0,721.8 97.5,721.4 98.0,721.4 98.5,721.3 99.0,721.2 99.5,721.1 100.0,720.9 100.5,720.5 101.0,719.9 101.5,719.1 102.0,718.7 102.4,719.1 102.9,719.8 103.3,720.4 103.8,720.8 104.2,721.1 104.7,721.3 105.1,721.4 105.6,721.7 106.1,721.6 106.6,721.3 107.1,721.2 107.5,721.4 108.0,721.1 108.5,720.8 109.0,721.3 109.5,720.9 110.0,721.0 110.5,721.3 111.0,720.7 111.5,720.5 112.0,720.5 112.4,720.9 112.9,720.7 113.4,720.6 113.9,720.7 114.4,720.7 114.9,720.5 115.4,720.3 115.9,719.9 116.4,719.3 116.9,718.3 117.4,717.0 117.9,716.3 118.4,716.9 118.9,718.0 119.4,718.8 119.9,719.3 120.4,719.7 120.9,719.9 121.4,720.0 121.9,720.4 122.4,719.7 122.9,719.8 123.4,720.2 123.9,719.9 124.4,719.6 124.9,719.8 125.4,719.7 125.9,719.4 126.4,719.6 126.9,719.5 127.4,719.9 127.9,719.4 128.4,719.7 128.9,719.9 129.4,719.9 129.9,719.3 130.4,719.5 130.9,719.2 131.4,719.3 131.9,719.3 132.4,719.6 132.9,719.7 133.4,719.0 133.9,718.8 134.4,719.1 134.9,718.7 135.4,719.1 135.9,717.8 136.4,716.1 136.9,713.7 137.4,710.1 137.9,704.5 138.3,695.5 138.8,679.9 139.3,652.5 139.8,610.5 140.3,583.1 140.7,607.5 141.1,650.5 141.6,683.1 142.0,703.5 142.4,716.0 142.8,715.2 143.3,714.0 143.7,712.0 144.1,708.8 144.6,704.4 145.0,701.8 145.4,704.8 145.9,710.0 146.3,713.8 146.7,716.1 147.2,717.5 147.6,718.4 148.1,718.1 148.6,718.8 149.1,718.3 149.6,718.9 150.1,718.7 150.6,719.3 151.1,719.3 151.6,718.7 152.1,718.9 152.6,719.6 153.1,719.4 153.6,719.3 154.1,719.5 154.6,719.8 155.1,719.9 155.6,719.6 156.1,719.7 156.5,719.4 157.0,719.7 157.5,719.5 158.0,720.0 158.5,720.0 159.0,719.7 159.5,720.2 159.9,719.7 160.4,719.8 160.9,720.3 161.4,720.2 161.9,720.7 162.4,720.5 162.9,720.6 163.4,720.1 163.9,720.8 164.3,720.2 164.8,720.7 165.3,721.0 165.8,720.7 166.3,720.7 166.8,720.6 167.2,720.5 167.7,720.5 168.2,720.4 168.7,720.3 169.2,720.2 169.6,720.0 170.1,719.8 170.6,719.6 171.1,719.3 171.6,718.9 172.1,718.4 172.5,717.8 173.0,716.9 173.5,715.7 174.0,714.1 174.5,711.9 174.9,709.4 175.4,707.0 175.9,706.0 176.4,707.0 176.9,709.2 177.4,711.6 177.9,713.7 178.3,715.2 178.8,716.3 179.3,717.1 179.8,717.7 180.3,718.4 180.7,718.8 181.2,718.8 181.7,719.4 182.2,719.8 182.6,719.6 183.1,720.7 183.6,721.0 184.0,721.0 184.5,721.4 185.0,721.6 185.5,721.2 185.9,721.0 186.4,721.4 186.9,720.7 187.4,721.3 187.9,721.4 188.4,720.7 188.9,721.3 189.3,720.4 189.8,721.1 190.3,720.7 190.7,720.4 191.2,719.9 191.6,719.2 192.1,717.9 192.5,715.8 193.0,712.9 193.4,711.2 193.8,711.6 194.3,712.3 194.8,712.7 195.2,713.0 195.6,712.9 196.1,712.7 196.5,712.5 196.9,712.4 197.3,714.1 197.7,717.2 198.2,719.6 198.6,721.0 199.0,721.9 199.5,721.4 199.9,721.7 200.4,720.9 200.9,720.7 201.3,718.6 201.7,715.2 202.2,709.7 202.6,702.4 203.0,698.3 203.4,702.5 203.9,709.7 204.3,715.0 204.7,718.2 205.2,720.2 205.6,721.4 206.1,721.3 206.6,721.2 207.0,721.0 207.5,720.7 208.0,720.3 208.5,719.7 209.0,718.6 209.4,717.1 209.9,715.1 210.4,714.0 210.8,714.9 211.3,716.7 211.7,718.2 212.2,719.3 212.6,720.0 213.1,720.4 213.5,720.7 214.0,720.3 214.5,719.8 215.0,719.2 215.5,718.2 216.0,716.8 216.4,714.6 216.9,711.1 217.4,705.0 217.9,694.2 218.4,677.6 218.9,666.8 219.3,667.9 219.6,670.1 220.0,672.0 220.5,656.0 221.0,645.3 221.5,661.1 221.9,686.0 222.4,702.8 222.9,712.5 223.3,708.3 223.7,701.8 224.1,693.5 224.5,689.0 225.0,695.1 225.4,704.7 225.9,711.2 226.4,714.9 226.9,714.0 227.4,712.6 227.9,710.6 228.4,707.4 228.8,702.0 229.3,693.1 229.8,680.7 230.3,673.3 230.7,679.5 231.2,690.9 231.6,699.8 232.1,705.6 232.5,709.2 233.0,711.5 233.4,713.0 233.9,712.0 234.3,710.3 234.8,707.5 235.3,702.7 235.7,695.7 236.2,691.3 236.7,698.1 237.2,708.3 237.7,714.8 238.2,718.5 238.7,720.6 239.2,721.9 239.7,721.8 240.2,721.7 240.7,721.5 241.2,721.3 241.7,720.8 242.2,720.1 242.7,719.2 243.2,718.7 243.7,719.4 244.2,720.7 244.7,721.7 245.2,722.4 245.7,722.8 246.2,723.0 246.7,723.0 247.2,723.0 247.7,722.9 248.2,722.9 248.7,722.9 249.1,722.8 249.6,722.7 250.1,722.6 250.6,722.4 251.1,722.1 251.6,721.8 252.1,721.7 252.6,721.7 253.1,721.8 253.5,721.9 254.0,722.0 254.5,722.0 254.9,721.9 255.4,721.7 255.8,721.4 256.3,721.0 256.8,720.7 257.2,720.5 257.7,720.8 258.2,721.3 258.7,721.8 259.2,722.2 259.7,722.5 260.1,722.6 260.6,722.8 261.1,722.9 261.6,722.9 262.1,723.0 262.6,723.0 263.1,722.5 263.6,721.8 264.1,720.6 264.6,718.9 265.1,716.1 265.6,711.5 266.1,705.6 266.6,702.3 267.1,705.3 267.5,710.8 268.0,715.4 268.5,718.4 268.9,720.3 269.4,721.6 269.8,722.4 270.3,723.0 270.8,723.4 271.3,722.7 271.8,722.8 272.3,723.5 272.8,723.4 273.2,723.4 273.7,723.0 274.2,723.2 274.7,723.4 275.2,723.2 275.7,724.1 276.2,724.0 276.7,724.2 277.2,724.0 277.7,723.8 278.1,723.6 278.6,724.2 279.1,723.7 279.6,724.2 280.1,724.2 280.6,724.2 281.0,724.1 281.5,724.0 282.0,723.8 282.4,723.5 282.9,723.3 283.4,723.2 283.8,723.2 284.3,723.1 284.8,723.1 285.2,723.0 285.7,723.0 286.2,723.0 286.6,723.0 287.1,723.0 287.6,720.9 288.1,717.5 288.6,712.1 289.1,702.7 289.6,685.9 290.1,659.8 290.6,642.3 291.0,656.7 291.5,680.9 291.9,698.4 292.4,708.9 292.8,715.3 293.3,719.3 293.7,721.9 294.2,721.1 294.7,720.0 295.2,718.2 295.6,715.3 296.1,710.3 296.6,701.6 297.1,688.3 297.6,679.6 298.1,689.1 298.6,704.0 299.0,714.0 299.5,719.7 300.0,723.0 300.5,722.9 301.0,722.7 301.5,722.3 302.0,721.7 302.5,720.7 303.0,720.0 303.5,720.9 303.9,722.5 304.4,723.5 304.9,724.1 305.3,724.5 305.8,724.7 306.3,724.7 306.7,724.7 307.2,724.6 307.7,724.6 308.1,724.5 308.6,724.4 309.1,724.2 309.5,724.1 310.0,724.0 310.5,724.1 311.0,724.2 311.5,724.4 312.0,724.5 312.5,724.5 313.0,724.6 313.5,724.6 314.0,724.6 314.5,724.7 315.0,724.7 315.5,724.7 316.0,724.7 316.5,724.7 317.0,724.7 317.5,724.7 318.0,724.7 318.5,724.7 319.0,724.3 319.5,724.3 319.9,724.7 320.4,724.3 320.9,724.7 321.4,724.4 321.9,724.5 322.4,724.4 322.9,724.8 323.4,724.6 323.9,724.5 324.4,724.4 324.8,724.8 325.3,725.1 325.8,724.6 326.3,724.4 326.8,724.7 327.3,724.6 327.7,724.5 328.2,724.3 328.7,724.1 329.1,723.9 329.6,723.5 330.1,723.0 330.6,722.4 331.0,721.9 331.5,721.7 332.0,722.0 332.5,722.8 333.0,723.6 333.5,724.2 334.0,724.7 334.5,725.1 335.0,725.3 335.5,725.5 336.0,725.7 336.5,725.8 337.0,725.8 337.5,725.9 338.0,726.0 338.5,726.0 339.0,725.7 339.5,725.5 340.0,725.7 340.5,725.7 341.0,725.4 341.5,724.9 342.0,724.9 342.5,724.9 343.0,724.8 343.5,724.6 344.0,725.0 344.5,724.5 345.0,724.5 345.5,724.2 346.0,724.1 346.5,724.1 347.0,724.0 347.4,723.9 347.9,723.7 348.4,723.5 348.9,723.2 349.4,722.9 349.9,722.3 350.4,721.4 350.8,720.2 351.3,718.4 351.8,716.4 352.3,715.4 352.8,716.1 353.2,717.6 353.7,719.0 354.2,720.0 354.6,720.7 355.1,721.2 355.6,721.5 356.0,721.7 356.5,721.9 357.0,722.4 357.4,722.6 357.9,723.0 358.4,722.9 358.9,723.4 359.3,724.0 359.8,723.6 360.3,724.3 360.7,724.3 361.2,724.7 361.7,724.7 362.2,724.6 362.6,724.5 363.1,724.4 363.6,724.2 364.1,724.0 364.6,723.7 365.1,723.3 365.6,722.7 366.0,721.8 366.5,720.9 367.0,720.5 367.5,720.9 368.0,721.7 368.5,722.4 369.0,722.9 369.5,723.3 370.0,723.5 370.5,723.7 371.0,723.5 371.5,723.3 371.9,722.8 372.4,722.1 372.9,721.7 373.4,722.5 373.9,723.7 374.4,724.5 374.9,724.9 375.4,725.2 375.9,725.3 376.4,725.4 376.9,724.7 377.4,724.3 377.9,724.6 378.4,723.7 378.9,723.9 379.4,723.0 379.9,723.0 380.4,719.5 380.8,713.7 381.3,703.8 381.7,689.6 382.2,680.8 382.7,690.4 383.2,705.5 383.6,715.6 384.1,721.3 384.6,724.7 385.1,724.6 385.6,724.4 386.1,724.8 386.6,725.1 387.0,724.6 387.5,725.0 388.0,725.3 388.5,724.8 389.0,725.0 389.5,725.3 390.0,725.4 390.5,724.8 391.0,725.3 391.5,724.9 391.9,724.9 392.4,725.7 392.9,724.9 393.4,725.7 393.9,725.4 394.4,725.2 394.9,724.8 395.4,724.3 395.9,723.4 396.4,722.0 396.9,719.3 397.4,715.2 397.9,712.4 398.4,715.3 398.9,719.6 399.4,722.4 399.9,724.0 400.4,724.9 400.9,725.4 401.4,725.6 401.9,725.4 402.3,725.4 402.8,725.3 403.3,724.9 403.8,724.9 404.3,724.6 404.8,725.2 405.2,725.0 405.7,725.0 406.2,724.4 406.7,724.6 407.2,724.3 407.7,724.7 408.1,724.6 408.6,724.7 409.1,724.2 409.6,723.9 410.1,723.4 410.6,722.6 411.1,721.2 411.6,718.8 412.1,715.0 412.6,712.4 413.1,715.0 413.6,719.0 414.1,721.5 414.6,722.9 415.1,723.7 415.6,724.2 416.1,723.9 416.6,723.5 417.1,723.1 417.6,722.1 418.1,722.1 418.6,721.2 419.1,721.0 419.6,720.7 420.1,720.5 420.6,720.1 421.1,719.6 421.6,718.7 422.1,717.3 422.6,715.2 423.1,712.3 423.6,710.7 424.1,713.0 424.6,717.1 425.1,720.2 425.6,722.2 426.1,723.4 426.6,724.2 427.1,724.0 427.5,724.8 428.0,724.1 428.5,725.1 429.0,725.2 429.4,724.9 429.9,725.3 430.4,724.8 430.8,725.0 431.3,725.4 431.8,725.2 432.3,724.9 432.8,724.4 433.3,723.7 433.8,722.5 434.3,720.9 434.8,720.0 435.3,721.0 435.8,722.8 436.3,724.2 436.8,725.0 437.3,725.5 437.8,725.9 438.3,726.1 438.8,725.5 439.3,725.4 439.8,725.2 440.2,725.8 440.7,724.9 441.2,725.2 441.7,724.8 442.2,724.5 442.7,724.6 443.1,724.2 443.6,724.8 444.1,724.2 444.6,724.1 445.0,724.0 445.5,723.9 446.0,723.7 446.5,723.5 446.9,723.2 447.4,722.7 447.9,722.0 448.3,721.3 448.8,721.0 449.3,721.3 449.7,722.0 450.2,722.7 450.7,723.2 451.1,723.5 451.6,723.7 452.1,723.9 452.6,724.0 453.0,724.1 453.5,724.2 454.0,724.0 454.5,724.1 455.0,724.0 455.5,724.0 456.0,723.8 456.5,723.5 457.0,723.3 457.5,723.9 458.0,723.2 458.5,723.3 459.0,723.5 459.5,723.2 460.0,723.5 460.5,723.0 461.0,722.9 461.5,722.9 461.9,722.8 462.4,722.7 462.9,722.5 463.4,722.2 463.9,721.8 464.4,721.1 464.9,720.0 465.3,718.0 465.8,715.0 466.3,713.0 466.7,715.2 467.2,719.0 467.6,721.7 468.1,723.4 468.5,724.4 469.0,725.0 469.4,725.4 469.9,725.6 470.3,725.2 470.8,724.7 471.3,725.0 471.7,724.8 472.2,725.1 472.6,724.7 473.1,724.7 473.6,724.7 474.0,724.3 474.5,724.2 475.0,724.2 475.5,724.1 476.0,724.0 476.5,723.8 477.0,723.5 477.5,723.1 478.0,722.9 478.5,723.4 479.0,724.4 479.5,725.1 480.0,725.5 480.5,725.8 481.0,726.0 481.5,726.1 482.0,726.1 482.5,726.0 483.0,726.0 483.5,726.0 484.0,725.9 484.5,725.8 485.0,725.7 485.5,725.5 486.0,725.3 486.5,724.9 487.0,724.2 487.5,723.2 488.0,721.8 488.5,721.0 489.0,721.8 489.5,723.3 490.0,724.5 490.5,725.2 491.0,725.6 491.5,725.9 492.0,726.1 492.5,726.3 493.0,726.2 493.5,725.4 494.0,726.0 494.5,725.8 494.9,725.7 495.4,725.1 495.9,724.9 496.4,724.7 496.9,724.8 497.4,725.1 497.9,724.7 498.4,724.5 498.9,724.2 499.3,723.8 499.8,723.1 500.3,722.1 500.8,720.4 501.2,717.5 501.7,713.7 502.2,711.5 502.6,713.4 503.1,716.8 503.6,719.5 504.0,721.1 504.4,722.2 504.9,722.8 505.4,723.3 505.8,723.6 506.3,723.5 506.7,723.2 507.2,723.5 507.7,723.4 508.1,723.9 508.6,724.1 509.1,724.3 509.5,723.6 510.0,723.9 510.5,723.7 510.9,724.4 511.4,724.1 511.9,724.0 512.3,724.0 512.8,723.9 513.2,723.7 513.7,723.5 514.2,723.2 514.6,722.7 515.1,721.9 515.5,721.0 516.0,720.5 516.4,721.1 516.9,722.2 517.3,723.1 517.8,723.7 518.2,724.1 518.7,724.4 519.1,724.6 519.6,724.6 520.1,724.5 520.6,724.5 521.0,724.4 521.5,724.3 522.0,724.1 522.5,723.9 523.0,723.8 523.5,724.1 524.0,724.8 524.5,725.2 525.0,725.5 525.5,725.7 526.0,725.8 526.4,725.9 526.9,726.0 527.4,726.0 527.9,726.0 528.4,726.1 528.9,726.1 529.4,726.1 529.9,726.1 530.4,726.1 530.9,726.1 531.4,726.1 531.9,726.1 532.3,726.0 532.8,726.0 533.3,726.0 533.8,726.0 534.3,725.9 534.8,725.9 535.3,725.8 535.8,725.8 536.3,725.7 536.8,725.5 537.2,725.3 537.7,725.1 538.2,724.7 538.7,724.3 539.2,724.0 539.7,723.8 540.2,723.9 540.7,724.2 541.1,724.6 541.6,724.8 542.1,725.0 542.5,725.2 543.0,725.3 543.5,725.4 544.0,725.4 544.5,725.4 545.0,725.3 545.5,725.3 545.9,725.3 546.4,725.2 546.9,725.1 547.4,725.1 547.9,725.1 548.4,725.2 548.8,725.2 549.3,725.3 549.8,725.3 550.3,725.3 550.8,725.4 551.2,725.4 551.7,725.4 552.2,725.4 552.7,725.4 553.2,725.4 553.7,725.4 554.1,725.4 554.6,725.4 555.1,725.4 555.6,725.7 556.1,725.5 556.5,725.9 557.0,725.6 557.5,725.9 558.0,725.7 558.5,725.6 559.0,726.2 559.4,726.1 559.9,725.9 560.4,726.2 560.9,726.1 561.4,726.2 561.8,725.6 562.3,725.7 562.8,726.1 563.3,726.1 563.8,726.1 564.2,726.1 564.7,726.1 565.2,726.1 565.7,726.0 566.2,726.0 566.6,726.0 567.1,725.9 567.6,725.8 568.1,725.7 568.6,725.5 569.0,725.2 569.5,724.8 570.0,724.6 570.5,724.9 571.0,725.6 571.5,726.0 572.0,726.3 572.5,726.5 573.0,726.6 573.5,726.2 574.0,726.7 574.5,726.8 575.0,726.3 575.5,726.6 576.0,726.3 576.5,726.8 577.0,726.9 577.5,726.2 578.0,727.0 578.5,726.7 579.0,726.3 579.5,726.5 580.0,726.3 580.5,726.8 581.0,727.0 581.5,726.3 582.0,726.3 582.5,726.7 583.0,726.9 583.5,726.8 584.0,726.6 584.5,726.2 585.0,726.7 585.5,726.6 586.0,726.9 586.5,726.7 587.0,726.8 587.5,727.0 588.0,726.7 588.5,726.6 589.0,726.6 589.5,726.6 590.0,726.6 590.5,726.6 591.0,726.5 591.5,726.5 592.0,726.5 592.5,726.5 593.0,726.4 593.5,726.4 594.0,726.3 594.5,726.2 595.0,726.0 595.5,725.7 596.0,725.2 596.5,724.5 597.0,723.5 597.5,723.0 598.0,723.5 598.5,724.5 598.9,725.3 599.4,725.8 599.9,726.2 600.3,726.4 600.8,726.5 601.3,726.6 601.8,727.0 602.3,726.4 602.8,726.2 603.3,726.9 603.8,726.2 604.3,727.0 604.8,726.6 605.2,726.2 605.7,726.4 606.2,726.8 606.7,726.5 607.2,726.7 607.7,726.2 608.2,726.9 608.7,726.5 609.2,726.9 609.7,726.3 610.2,726.8 610.7,726.6 611.2,726.5 611.7,726.2 612.2,726.6 612.7,726.9 613.1,726.2 613.6,726.6 614.1,726.2 614.6,727.0 615.1,727.0 615.6,726.8 616.1,726.6 616.6,726.2 617.1,726.3 617.6,726.8 618.1,726.9 618.6,727.0 619.1,726.9 619.6,726.5 620.1,726.4 620.6,726.6 621.0,726.5 621.5,726.6 622.0,726.9 622.5,726.6 623.0,727.0 623.5,726.8 624.0,726.2 624.5,726.6 625.0,726.8 625.5,726.6 626.0,726.5 626.4,725.9 626.9,726.7 627.4,726.3 627.9,726.2 628.4,725.8 628.9,725.7 629.4,725.6 629.8,725.7 630.3,725.7 630.8,725.5 631.3,725.4 631.8,725.9 632.3,725.9 632.8,726.0 633.2,725.3 633.7,725.7 634.2,725.5 634.7,725.4 635.2,725.4 635.7,725.4 636.2,725.4 636.7,725.4 637.2,725.4 637.7,725.4 638.2,725.4 638.7,725.4 639.2,725.4 639.7,725.4 640.2,725.4 640.7,725.4 641.2,725.4 641.7,725.4 642.2,725.4 642.7,725.4 643.2,725.4 643.7,725.4 644.2,725.4 644.7,725.4 645.2,725.4 645.7,725.4 646.2,725.4 646.7,725.4 647.2,725.3 647.7,725.3 648.2,725.3 648.7,725.3 649.2,725.2 649.7,725.1 650.2,725.1 650.7,725.2 651.1,725.4 651.6,725.6 652.1,725.8 652.5,725.9 653.0,725.9 653.4,726.0 653.9,726.0 654.4,726.1 654.8,726.1 655.3,726.1 655.8,725.7 656.3,726.4 656.7,725.8 657.2,725.6 657.7,725.6 658.2,726.2 658.7,725.5 659.1,725.6 659.6,725.7 660.1,725.5 660.6,725.8 661.1,725.2 661.6,725.5 662.0,725.6 662.5,725.6 663.0,725.4 663.5,725.3 664.0,724.9 664.5,725.0 665.0,725.2 665.5,724.6 666.0,724.5 666.5,724.6 667.0,723.9 667.5,723.7 668.0,724.2 668.5,723.6"/>
<polyline class="c" stroke="#000000" points="56.0,910.3 56.5,910.1 57.0,909.9 57.5,910.4 58.0,909.8 58.5,910.2 59.0,910.0 59.5,909.7 60.0,910.1 60.5,909.7 61.0,910.0 61.5,909.7 62.0,909.7 62.5,909.9 63.0,910.3 63.5,909.6 64.0,909.7 64.5,910.0 65.0,910.3 65.5,909.9 66.0,909.7 66.5,910.2 67.0,909.4 67.5,910.1 68.0,909.6 68.5,909.4 69.0,909.4 69.5,909.5 70.0,909.9 70.5,909.3 71.0,909.7 71.5,909.7 72.0,909.5 72.5,909.6 73.0,909.1 73.5,909.1 74.0,909.2 74.5,909.6 75.0,909.4 75.5,909.2 76.0,909.5 76.5,909.3 77.0,909.2 77.5,909.6 78.0,909.5 78.5,909.0 79.0,909.3 79.5,909.2 80.0,909.5 80.5,909.4 81.0,909.0 81.5,909.6 82.0,908.8 82.5,909.0 83.0,909.3 83.5,908.7 84.0,909.0 84.5,908.6 85.0,909.1 85.5,909.2 86.0,909.0 86.5,909.2 87.0,908.7 87.5,909.0 88.0,908.9 88.5,908.9 89.0,908.8 89.5,909.1 90.0,909.1 90.5,908.7 91.0,908.7 91.5,908.8 92.0,908.3 92.5,908.8 93.0,908.7 93.5,909.0 94.0,908.8 94.5,908.3 95.0,908.4 95.5,908.6 96.0,908.0 96.4,908.4 96.9,908.1 97.4,908.0 97.9,907.9 98.4,908.5 98.9,907.9 99.4,908.0 99.9,908.1 100.4,908.5 100.9,907.8 101.4,908.1 101.9,908.1 102.4,908.4 102.9,908.3 103.4,908.4 103.9,907.8 104.4,907.9 104.9,907.8 105.4,908.3 105.9,908.3 106.4,907.5 106.8,907.5 107.3,907.6 107.8,907.5 108.3,907.7 108.8,907.8 109.3,907.5 109.8,907.2 110.3,907.6 110.8,907.5 111.3,907.7 111.8,908.0 112.3,907.7 112.8,907.5 113.3,907.6 113.8,907.6 114.3,907.0 114.8,907.8 115.3,907.6 115.8,907.7 116.3,907.6 116.8,907.2 117.3,907.2 117.7,906.9 118.2,907.3 118.7,906.8 119.2,906.8 119.7,906.9 120.2,906.8 120.7,906.9 121.2,906.6 121.7,906.6 122.2,906.7 122.7,906.6 123.2,906.8 123.7,906.5 124.2,907.2 124.7,907.0 125.2,906.5 125.7,906.6 126.2,906.6 126.7,906.6 127.2,906.4 127.7,907.0 128.1,907.1 128.6,906.6 129.1,906.6 129.6,906.2 130.1,906.2 130.6,906.4 131.1,906.3 131.6,906.8 132.1,906.1 132.6,906.0 133.1,906.4 133.6,906.1 134.1,905.7 134.5,905.3 135.0,904.8 135.5,904.1 136.0,903.2 136.5,902.1 137.0,900.6 137.4,898.6 137.9,895.8 138.4,891.7 138.9,885.5 139.4,875.6 139.9,859.2 140.3,832.3 140.8,795.3 141.3,773.5 141.8,796.9 142.2,838.3 142.7,869.8 143.1,889.5 143.6,901.7 144.1,901.4 144.6,900.9 145.0,900.1 145.5,898.8 146.0,898.0 146.5,899.6 146.9,902.2 147.4,904.0 147.8,905.1 148.3,905.7 148.8,906.1 149.3,905.8 149.8,905.5 150.3,905.9 150.8,905.5 151.3,905.9 151.8,906.4 152.3,906.3 152.8,906.2 153.3,905.9 153.8,906.0 154.3,905.8 154.8,906.4 155.3,906.2 155.8,906.5 156.3,906.1 156.8,906.1 157.3,906.6 157.8,906.8 158.3,906.8 158.8,906.7 159.3,906.8 159.8,906.8 160.3,906.3 160.8,906.6 161.3,906.5 161.8,906.3 162.3,906.3 162.8,906.6 163.3,906.6 163.8,907.0 164.3,907.3 164.8,906.9 165.3,907.3 165.8,907.4 166.3,907.4 166.8,906.9 167.3,906.8 167.8,906.9 168.3,906.9 168.8,906.9 169.3,907.4 169.8,907.6 170.3,907.6 170.8,907.3 171.3,907.5 171.8,907.7 172.3,907.1 172.8,907.5 173.3,907.5 173.7,907.4 174.2,907.3 174.7,907.1 175.1,906.9 175.6,906.6 176.1,906.0 176.5,905.4 177.0,905.0 177.5,905.6 177.9,906.7 178.4,907.5 178.9,908.1 179.3,908.5 179.8,908.7 180.3,908.8 180.8,909.1 181.3,909.0 181.8,908.9 182.3,908.7 182.8,908.4 183.3,909.0 183.8,908.5 184.3,909.0 184.7,909.1 185.2,908.6 185.7,908.6 186.2,909.1 186.7,908.9 187.2,908.4 187.7,908.4 188.2,908.4 188.7,909.1 189.2,908.7 189.7,908.5 190.2,908.3 190.6,908.0 191.1,907.6 191.6,907.0 192.1,906.1 192.6,904.7 193.1,902.3 193.5,898.4 194.0,893.0 194.5,889.8 195.0,891.5 195.4,894.5 195.9,896.7 196.3,898.1 196.8,899.0 197.2,899.3 197.6,899.5 198.0,901.2 198.5,904.0 198.9,906.0 199.4,907.2 199.8,907.9 200.3,908.4 200.7,908.7 201.2,908.9 201.7,908.3 202.2,908.8 202.6,908.9 203.1,908.6 203.6,908.3 204.1,908.4 204.6,908.0 205.1,907.8 205.6,908.6 206.1,908.3 206.6,908.1 207.0,908.4 207.5,907.9 208.0,908.3 208.5,908.2 209.0,907.6 209.5,907.6 210.0,907.6 210.4,907.5 210.9,907.7 211.4,907.4 211.9,907.5 212.4,907.5 212.9,907.3 213.4,907.0 213.9,906.7 214.4,906.3 214.9,905.7 215.4,905.0 215.9,903.9 216.4,902.5 216.9,900.3 217.4,897.0 217.9,891.3 218.4,881.2 218.9,862.1 219.4,828.9 219.9,804.2 220.3,812.4 220.7,826.1 221.1,836.0 221.5,826.8 222.0,813.1 222.4,804.2 222.9,830.8 223.3,869.2 223.8,893.0 224.3,891.2 224.7,888.6 225.2,887.0 225.7,890.9 226.2,896.8 226.7,900.6 227.2,902.7 227.7,904.0 228.2,904.7 228.7,905.2 229.2,904.9 229.6,904.4 230.1,903.6 230.6,902.1 231.0,900.0 231.5,898.7 232.0,900.2 232.4,902.6 232.9,904.3 233.4,905.2 233.9,904.9 234.4,904.4 234.9,903.7 235.4,902.4 235.9,900.1 236.4,896.4 236.9,894.0 237.4,897.5 237.9,902.8 238.4,906.2 238.9,908.1 239.4,909.2 239.9,909.9 240.4,909.6 240.9,910.4 241.4,909.9 241.9,910.0 242.3,910.2 242.8,910.5 243.3,910.1 243.8,910.6 244.3,910.3 244.8,910.4 245.3,910.4 245.8,910.0 246.2,910.4 246.7,910.2 247.2,910.1 247.7,910.9 248.2,910.4 248.7,910.7 249.2,910.9 249.7,910.8 250.1,910.7 250.6,910.9 251.1,911.0 251.6,911.2 252.1,911.0 252.6,910.9 253.0,910.8 253.5,910.7 254.0,910.5 254.4,910.2 254.9,909.8 255.3,909.2 255.8,908.2 256.3,906.7 256.7,904.9 257.2,903.9 257.6,904.1 258.0,904.4 258.4,904.8 258.8,905.0 259.3,905.2 259.8,905.5 260.3,905.7 260.8,906.6 261.3,908.1 261.8,909.3 262.3,910.1 262.8,910.5 263.3,910.8 263.8,911.0 264.3,910.8 264.8,910.4 265.3,909.9 265.8,909.1 266.2,907.9 266.7,905.9 267.2,903.4 267.7,902.0 268.1,903.2 268.6,905.6 269.0,907.7 269.5,909.1 269.9,910.0 270.4,910.6 270.8,911.0 271.3,910.6 271.8,911.1 272.3,910.8 272.8,910.8 273.3,911.2 273.7,911.0 274.2,911.1 274.7,911.2 275.2,911.4 275.7,910.9 276.2,911.1 276.7,911.0 277.2,911.0 277.7,911.2 278.2,911.0 278.6,911.0 279.1,911.0 279.6,911.4 280.1,911.2 280.6,911.3 281.1,911.4 281.6,910.8 282.1,911.1 282.6,911.4 283.1,911.3 283.5,910.7 284.0,910.7 284.5,910.9 285.0,910.6 285.5,910.8 286.0,911.0 286.5,910.2 287.0,909.2 287.4,907.8 287.9,905.9 288.4,903.1 288.9,898.8 289.4,892.0 289.9,880.8 290.3,862.4 290.8,837.0 291.3,822.1 291.8,838.3 292.3,864.8 292.8,883.5 293.3,894.6 293.8,901.2 294.3,905.3 294.8,908.1 295.3,909.9 295.8,909.1 296.3,907.8 296.8,905.5 297.3,901.5 297.8,895.2 298.3,891.0 298.8,895.2 299.2,901.9 299.7,906.5 300.2,909.1 300.6,910.7 301.1,911.7 301.6,911.3 302.1,911.9 302.6,912.0 303.1,912.1 303.5,911.5 304.0,912.0 304.5,912.0 305.0,911.5 305.5,912.2 306.0,912.3 306.5,911.7 307.0,912.4 307.4,911.9 307.9,912.0 308.4,912.5 308.9,912.3 309.4,911.7 309.9,912.0 310.4,912.1 310.9,912.0 311.3,911.9 311.8,912.0 312.3,912.4 312.8,912.2 313.3,912.2 313.8,912.2 314.3,912.1 314.8,912.1 315.3,912.1 315.8,912.0 316.2,911.9 316.7,911.8 317.2,911.6 317.7,911.3 318.2,911.0 318.7,910.9 319.2,911.1 319.6,911.4 320.1,911.8 320.5,912.1 321.0,912.3 321.5,912.4 321.9,912.5 322.4,912.6 322.8,912.7 323.3,912.7 323.8,912.7 324.3,912.7 324.8,912.6 325.2,912.6 325.7,912.5 326.2,912.4 326.7,912.3 327.2,912.2 327.7,911.9 328.1,911.6 328.6,911.1 329.1,910.6 329.6,910.4 330.1,910.6 330.5,911.1 331.0,911.5 331.5,911.9 332.0,912.1 332.4,912.3 332.9,912.4 333.4,912.5 333.8,912.6 334.3,912.6 334.8,912.6 335.3,912.7 335.7,912.7 336.2,912.7 336.7,912.3 337.2,912.7 337.7,912.6 338.2,912.3 338.7,912.5 339.2,912.8 339.7,912.7 340.2,912.3 340.7,913.1 341.2,913.0 341.7,913.1 342.2,912.3 342.7,912.5 343.2,912.7 343.7,912.7 344.1,912.6 344.6,912.6 345.1,912.5 345.5,912.3 346.0,912.1 346.5,911.8 347.0,911.3 347.4,910.7 347.9,910.4 348.4,910.8 348.8,911.4 349.3,912.0 349.8,912.3 350.2,912.6 350.7,912.7 351.2,912.6 351.7,912.6 352.2,912.5 352.7,912.4 353.2,912.3 353.7,912.1 354.2,911.9 354.7,911.6 355.2,911.1 355.7,910.5 356.2,909.7 356.7,908.7 357.2,907.8 357.7,907.4 358.2,907.8 358.7,908.8 359.2,909.9 359.7,910.8 360.2,911.4 360.7,911.9 361.2,912.2 361.7,911.7 362.2,912.3 362.6,911.7 363.1,911.5 363.6,911.6 364.1,912.0 364.6,911.8 365.1,911.2 365.6,911.0 366.0,911.6 366.5,911.2 367.0,911.0 367.5,911.4 368.0,911.0 368.5,911.1 369.0,911.9 369.5,911.8 370.0,911.6 370.5,912.2 371.0,912.1 371.5,911.9 372.0,911.6 372.5,911.1 373.0,910.4 373.5,909.2 374.0,907.6 374.5,906.7 375.0,907.5 375.4,908.9 375.9,910.1 376.4,910.9 376.8,911.4 377.3,911.7 377.8,911.9 378.2,912.1 378.7,912.2 379.2,911.2 379.6,909.8 380.1,907.8 380.6,904.8 381.0,900.1 381.5,892.3 382.0,879.8 382.4,863.2 382.9,853.6 383.4,864.0 383.8,882.2 384.3,895.8 384.8,904.2 385.2,909.4 385.7,912.7 386.2,913.1 386.7,912.8 387.2,913.0 387.7,912.3 388.1,913.0 388.6,912.3 389.1,913.0 389.6,912.7 390.1,912.6 390.6,912.7 391.1,913.1 391.6,912.5 392.1,912.4 392.6,912.7 393.0,912.5 393.5,912.3 394.0,912.4 394.5,912.3 395.0,912.7 395.5,912.5 395.9,912.2 396.4,911.7 396.9,910.9 397.4,909.7 397.9,907.7 398.3,905.0 398.8,903.4 399.3,904.9 399.7,907.7 400.2,909.7 400.7,910.9 401.1,911.7 401.6,912.2 402.1,911.6 402.6,911.3 403.1,911.0 403.6,911.0 404.1,910.3 404.6,910.1 405.1,909.5 405.6,909.4 406.1,909.3 406.6,909.3 407.0,909.2 407.5,909.0 408.0,908.9 408.5,908.7 409.0,908.5 409.5,908.2 409.9,907.8 410.4,907.2 410.9,906.4 411.4,905.1 411.9,903.3 412.4,900.4 412.8,896.2 413.3,891.3 413.8,888.7 414.3,891.8 414.8,897.7 415.3,902.5 415.8,905.7 416.3,907.7 416.8,909.0 417.3,909.9 417.8,910.0 418.3,909.8 418.8,910.3 419.2,910.2 419.7,911.1 420.2,911.1 420.7,911.0 421.2,911.4 421.7,912.0 422.1,911.5 422.6,912.3 423.1,912.2 423.6,912.2 424.1,912.4 424.6,912.8 425.1,912.4 425.6,912.6 426.1,912.9 426.6,913.2 427.1,912.7 427.6,913.3 428.1,913.2 428.6,913.3 429.1,913.1 429.6,913.2 430.1,913.4 430.6,913.4 431.0,913.3 431.5,913.2 432.0,913.1 432.5,913.0 432.9,912.8 433.4,912.6 433.9,912.2 434.4,911.7 434.8,911.1 435.3,910.9 435.8,911.2 436.2,911.9 436.7,912.6 437.2,913.1 437.6,913.5 438.1,913.7 438.6,913.9 439.0,914.0 439.5,914.1 440.0,913.5 440.5,913.5 440.9,913.2 441.4,913.7 441.9,913.1 442.4,912.8 442.9,912.6 443.4,913.1 443.9,913.0 444.3,912.7 444.8,912.2 445.3,912.2 445.8,912.0 446.3,911.7 446.8,911.2 447.3,910.5 447.8,909.5 448.3,908.5 448.8,908.0 449.2,908.1 449.7,908.4 450.1,908.6 450.6,908.8 451.0,909.0 451.5,909.2 452.0,909.4 452.5,909.6 453.0,909.7 453.5,910.0 453.9,910.6 454.4,911.2 454.9,911.7 455.3,912.0 455.8,912.2 456.2,912.4 456.7,912.5 457.2,912.6 457.6,912.7 458.1,912.7 458.6,912.4 459.0,912.4 459.5,912.5 460.0,912.2 460.5,912.4 460.9,912.2 461.4,912.8 461.9,912.7 462.3,912.3 462.8,912.2 463.3,912.0 463.7,911.8 464.2,911.5 464.7,910.9 465.1,910.1 465.6,908.7 466.1,906.2 466.5,902.6 467.0,900.4 467.5,903.0 467.9,907.2 468.4,910.1 468.9,911.8 469.3,912.8 469.8,913.4 470.3,913.1 470.8,913.7 471.3,913.1 471.8,913.1 472.3,912.8 472.8,913.1 473.3,913.1 473.8,913.1 474.3,912.8 474.7,913.0 475.2,912.5 475.7,912.7 476.2,912.6 476.7,912.8 477.2,912.4 477.7,912.4 478.2,912.6 478.7,912.5 479.2,912.7 479.7,912.7 480.1,912.5 480.6,912.6 481.0,912.4 481.5,912.4 482.0,912.4 482.4,911.9 482.9,911.7 483.3,912.2 483.8,911.7 484.3,911.5 484.8,911.1 485.2,910.5 485.7,909.6 486.2,909.0 486.6,909.2 487.0,909.5 487.4,909.8 487.8,910.0 488.3,909.3 488.8,908.0 489.2,906.2 489.7,905.0 490.2,906.9 490.7,909.7 491.2,911.5 491.7,912.5 492.2,913.0 492.7,913.4 493.2,913.0 493.7,913.4 494.2,913.3 494.7,912.7 495.2,913.3 495.7,913.3 496.2,913.0 496.7,913.0 497.2,913.0 497.7,912.3 498.2,912.5 498.7,912.4 499.2,912.7 499.7,912.6 500.2,912.2 500.7,911.3 501.2,909.8 501.6,907.4 502.1,903.4 502.6,897.9 503.1,894.6 503.6,897.5 504.0,902.5 504.5,906.3 505.0,908.7 505.4,910.1 505.9,911.1 506.3,911.7 506.8,912.1 507.3,912.1 507.8,912.1 508.3,912.1 508.8,912.1 509.2,912.1 509.7,912.1 510.2,912.1 510.7,912.0 511.2,912.0 511.7,912.0 512.2,912.0 512.7,911.9 513.2,911.9 513.7,911.8 514.1,911.7 514.6,911.6 515.1,911.4 515.6,911.1 516.1,910.7 516.6,910.6 517.1,910.9 517.5,911.5 518.0,912.1 518.5,912.6 519.0,912.9 519.5,913.1 519.9,913.3 520.4,913.4 520.9,913.3 521.4,913.3 521.9,913.1 522.3,913.0 522.8,912.7 523.3,912.3 523.8,912.0 524.3,911.8 524.8,912.0 525.2,912.5 525.7,913.0 526.2,913.3 526.6,913.6 527.1,913.7 527.5,913.9 528.0,913.9 528.5,914.0 528.9,914.1 529.4,914.1 529.9,914.1 530.4,914.1 530.9,914.1 531.3,914.1 531.8,914.1 532.3,914.1 532.8,914.1 533.3,914.1 533.8,914.1 534.2,914.1 534.7,914.0 535.2,914.0 535.7,914.0 536.2,914.0 536.6,914.0 537.1,913.9 537.6,913.9 538.1,913.8 538.6,913.8 539.1,913.6 539.5,913.5 540.0,913.3 540.5,913.2 541.0,913.1 541.5,913.1 542.0,913.2 542.4,913.2 542.9,913.3 543.4,913.3 543.8,913.4 544.3,913.4 544.8,913.4 545.3,913.4 545.8,913.4 546.2,913.4 546.7,913.4 547.2,913.4 547.7,913.4 548.2,913.4 548.7,913.4 549.1,913.4 549.6,913.4 550.1,913.3 550.6,913.3 551.1,913.3 551.6,913.3 552.0,913.3 552.5,913.2 553.0,913.2 553.5,913.2 554.0,913.1 554.5,913.0 554.9,912.9 555.4,912.8 555.9,912.6 556.4,912.6 556.9,912.7 557.4,912.9 557.9,913.2 558.4,913.4 558.9,913.6 559.4,913.7 559.8,913.8 560.3,913.9 560.8,914.0 561.3,914.0 561.8,914.0 562.3,914.1 562.8,914.1 563.3,914.1 563.8,914.1 564.2,914.1 564.7,914.0 565.2,914.0 565.7,914.0 566.2,913.9 566.6,913.8 567.1,913.7 567.6,913.6 568.1,913.4 568.6,913.0 569.1,912.5 569.5,911.6 570.0,910.6 570.5,910.0 571.0,910.6 571.5,911.8 572.0,912.7 572.5,913.3 572.9,913.6 573.4,913.8 573.9,914.0 574.4,914.1 574.9,914.4 575.4,914.1 575.9,914.4 576.3,914.2 576.8,914.2 577.3,913.8 577.8,913.6 578.3,913.6 578.8,913.8 579.3,913.6 579.7,914.2 580.2,913.9 580.7,914.0 581.2,914.0 581.7,914.0 582.2,913.8 582.7,913.4 583.2,914.1 583.6,914.0 584.1,913.8 584.6,913.8 585.1,913.9 585.6,913.3 586.1,913.9 586.6,913.4 587.0,913.3 587.5,913.4 588.0,913.8 588.5,913.6 589.0,913.6 589.5,913.6 590.0,913.6 590.5,913.6 591.0,913.5 591.4,913.5 591.9,913.5 592.4,913.5 592.9,913.4 593.4,913.4 593.9,913.3 594.4,913.2 594.9,913.1 595.4,912.9 595.8,912.6 596.3,912.2 596.8,911.4 597.3,910.2 597.8,908.4 598.3,907.4 598.8,908.7 599.3,910.8 599.8,912.3 600.3,913.2 600.8,913.8 601.3,914.1 601.8,913.8 602.3,914.3 602.8,914.5 603.3,914.1 603.8,914.0 604.2,914.1 604.7,914.3 605.2,914.3 605.7,914.2 606.2,914.2 606.7,913.7 607.2,913.8 607.7,913.9 608.2,914.3 608.7,913.9 609.1,914.2 609.6,913.7 610.1,913.7 610.6,913.9 611.1,914.3 611.6,914.1 612.1,914.1 612.6,914.1 613.0,914.1 613.5,914.1 614.0,914.1 614.5,914.1 615.0,914.0 615.5,914.0 615.9,914.0 616.4,914.0 616.9,913.9 617.4,913.9 617.9,913.8 618.3,913.7 618.8,913.6 619.3,913.6 619.8,913.7 620.3,913.8 620.7,914.0 621.2,914.1 621.7,914.2 622.2,914.3 622.7,914.4 623.1,914.4 623.6,914.5 624.1,914.5 624.6,914.5 625.1,914.6 625.6,914.6 626.0,914.6 626.5,914.6 627.0,914.6 627.5,914.6 628.0,914.6 628.5,914.6 629.0,914.5 629.5,914.5 630.0,914.5 630.5,914.5 631.0,914.4 631.5,914.4 632.0,914.3 632.5,914.2 633.0,914.1 633.5,913.9 634.0,913.6 634.5,913.4 635.0,913.0 635.5,912.7 636.0,912.6 636.5,912.7 637.0,912.9 637.5,913.2 638.0,913.4 638.5,913.6 639.0,913.7 639.5,913.8 640.0,913.9 640.5,914.0 641.0,914.0 641.5,914.1 642.0,914.1 642.5,914.1 643.0,914.1 643.5,914.1 644.0,914.1 644.5,914.1 645.0,914.0 645.5,914.0 646.0,914.0 646.5,914.0 647.0,913.9 647.4,913.9 647.9,913.8 648.4,913.7 648.9,913.6 649.4,913.4 649.9,913.2 650.4,912.9 650.9,912.7 651.4,912.6 651.9,912.7 652.4,912.9 652.9,913.2 653.4,913.4 653.9,913.6 654.4,913.7 654.9,913.8 655.4,913.9 655.9,914.0 656.4,914.0 656.9,914.1 657.4,914.1 657.9,914.1 658.4,914.2 658.9,914.1 659.3,913.6 659.8,913.8 660.3,913.6 660.8,913.5 661.3,913.1 661.8,913.7 662.2,913.0 662.7,913.6 663.2,913.5 663.7,912.6 664.2,912.9 664.6,913.1 665.1,913.2 665.6,912.6 666.1,912.3 666.6,912.2 667.1,912.8 667.5,912.0 668.0,912.3 668.5,912.1"/>
<path class="fr" d="M56.3 3.1 H669.2 V938.4 H56.3 Z"/>
<line class="dv" x1="56.3" y1="189.9" x2="669.2" y2="189.9"/>
<line class="dv" x1="56.3" y1="377.6" x2="669.2" y2="377.6"/>
<line class="dv" x1="56.3" y1="564.9" x2="669.2" y2="564.9"/>
<line class="dv" x1="56.3" y1="752.0" x2="669.2" y2="752.0"/>
<line class="tk" x1="56.3" y1="938.4" x2="56.3" y2="926.9"/>
<text class="tl" transform="translate(56.3,974) scale(1,1.07)">10</text>
<line class="tk" x1="143.9" y1="938.4" x2="143.9" y2="926.9"/>
<text class="tl" transform="translate(143.9,974) scale(1,1.07)">20</text>
<line class="tk" x1="231.4" y1="938.4" x2="231.4" y2="926.9"/>
<text class="tl" transform="translate(231.4,974) scale(1,1.07)">30</text>
<line class="tk" x1="319.0" y1="938.4" x2="319.0" y2="926.9"/>
<text class="tl" transform="translate(319.0,974) scale(1,1.07)">40</text>
<line class="tk" x1="406.5" y1="938.4" x2="406.5" y2="926.9"/>
<text class="tl" transform="translate(406.5,974) scale(1,1.07)">50</text>
<line class="tk" x1="494.1" y1="938.4" x2="494.1" y2="926.9"/>
<text class="tl" transform="translate(494.1,974) scale(1,1.07)">60</text>
<line class="tk" x1="581.6" y1="938.4" x2="581.6" y2="926.9"/>
<text class="tl" transform="translate(581.6,974) scale(1,1.07)">70</text>
<line class="tk" x1="669.2" y1="938.4" x2="669.2" y2="926.9"/>
<text class="tl" transform="translate(669.2,974) scale(1,1.07)">80</text>
<path class="lb" d="M562.5 3.1 V46.5 H669.2 V3.1"/>
<line class="ll" stroke="#ff0000" x1="566.5" y1="25.4" x2="636.5" y2="25.4"/>
<text class="lt" x="644.3" y="36.1">E</text>
<path class="lb" d="M559.5 189.9 V233.8 H669.2 V189.9"/>
<line class="ll" stroke="#00ff00" x1="564.0" y1="212.8" x2="634.0" y2="212.8"/>
<text class="lt" x="641.4" y="222.9">D</text>
<path class="lb" d="M559.5 377.6 V421.0 H666.4 V377.6"/>
<line class="ll" stroke="#0000ff" x1="564.0" y1="400.0" x2="634.0" y2="400.0"/>
<text class="lt" x="641.0" y="410.6">C</text>
<path class="lb" d="M559.5 564.9 V608.2 H666.4 V564.9"/>
<line class="ll" stroke="#ff00ff" x1="563.8" y1="587.5" x2="633.8" y2="587.5"/>
<text class="lt" x="641.4" y="597.9">B</text>
<path class="lb" d="M557.9 752.0 V795.4 H666.4 V752.0"/>
<line class="ll" stroke="#000000" x1="562.2" y1="773.7" x2="632.2" y2="773.7"/>
<text class="lt" x="640.0" y="785.0">A</text>
<text class="ax ay" y="1035.5"><tspan x="277">Angle</tspan><tspan class="rp" x="386">(</tspan><tspan x="396.6">2</tspan><tspan class="rp" x="438.6">)</tspan></text>
<text class="ax rt" transform="translate(416.2,1035.5) scale(1.28,1)">&#952;</text>
<text class="ax ay" transform="translate(30.3,462.2) rotate(-90)" text-anchor="middle">Intensity (a.u.)</text>
</svg>
</body></html>
